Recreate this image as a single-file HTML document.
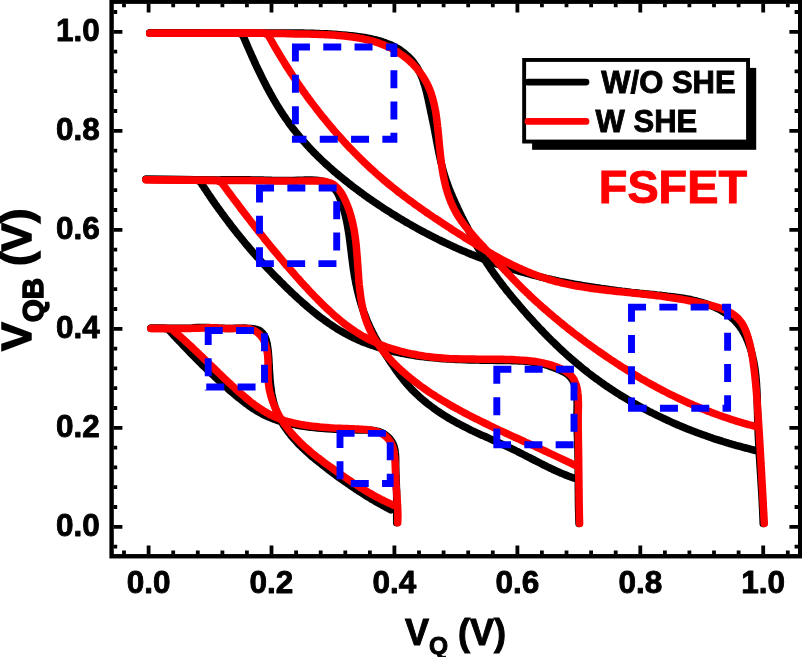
<!DOCTYPE html>
<html lang="en">
<head>
<meta charset="utf-8">
<title>FSFET butterfly curves</title>
<style>
html,body{margin:0;padding:0;background:#fff;}
body{width:802px;height:657px;overflow:hidden;}
svg{display:block;}
</style>
</head>
<body>
<svg width="802" height="657" viewBox="0 0 802 657">
<rect x="0" y="0" width="802" height="657" fill="#fff"/>
<path d="M124.0,554.2v-3.6M124.0,3.7v3.6M148.6,554.2v-8.8M148.6,3.7v8.8M173.2,554.2v-3.6M173.2,3.7v3.6M197.8,554.2v-3.6M197.8,3.7v3.6M222.4,554.2v-3.6M222.4,3.7v3.6M246.9,554.2v-3.6M246.9,3.7v3.6M271.5,554.2v-8.8M271.5,3.7v8.8M296.1,554.2v-3.6M296.1,3.7v3.6M320.7,554.2v-3.6M320.7,3.7v3.6M345.3,554.2v-3.6M345.3,3.7v3.6M369.9,554.2v-3.6M369.9,3.7v3.6M394.4,554.2v-8.8M394.4,3.7v8.8M419.0,554.2v-3.6M419.0,3.7v3.6M443.6,554.2v-3.6M443.6,3.7v3.6M468.2,554.2v-3.6M468.2,3.7v3.6M492.8,554.2v-3.6M492.8,3.7v3.6M517.4,554.2v-8.8M517.4,3.7v8.8M541.9,554.2v-3.6M541.9,3.7v3.6M566.5,554.2v-3.6M566.5,3.7v3.6M591.1,554.2v-3.6M591.1,3.7v3.6M615.7,554.2v-3.6M615.7,3.7v3.6M640.3,554.2v-8.8M640.3,3.7v8.8M664.9,554.2v-3.6M664.9,3.7v3.6M689.4,554.2v-3.6M689.4,3.7v3.6M714.0,554.2v-3.6M714.0,3.7v3.6M738.6,554.2v-3.6M738.6,3.7v3.6M763.2,554.2v-8.8M763.2,3.7v8.8M787.8,554.2v-3.6M787.8,3.7v3.6M113.6,546.6h3.6M798.2,546.6h-3.6M113.6,526.8h8.8M798.2,526.8h-8.8M113.6,507.0h3.6M798.2,507.0h-3.6M113.6,487.2h3.6M798.2,487.2h-3.6M113.6,467.4h3.6M798.2,467.4h-3.6M113.6,447.6h3.6M798.2,447.6h-3.6M113.6,427.8h8.8M798.2,427.8h-8.8M113.6,408.0h3.6M798.2,408.0h-3.6M113.6,388.2h3.6M798.2,388.2h-3.6M113.6,368.4h3.6M798.2,368.4h-3.6M113.6,348.6h3.6M798.2,348.6h-3.6M113.6,328.8h8.8M798.2,328.8h-8.8M113.6,309.0h3.6M798.2,309.0h-3.6M113.6,289.2h3.6M798.2,289.2h-3.6M113.6,269.4h3.6M798.2,269.4h-3.6M113.6,249.6h3.6M798.2,249.6h-3.6M113.6,229.8h8.8M798.2,229.8h-8.8M113.6,210.0h3.6M798.2,210.0h-3.6M113.6,190.2h3.6M798.2,190.2h-3.6M113.6,170.4h3.6M798.2,170.4h-3.6M113.6,150.6h3.6M798.2,150.6h-3.6M113.6,130.8h8.8M798.2,130.8h-8.8M113.6,111.0h3.6M798.2,111.0h-3.6M113.6,91.2h3.6M798.2,91.2h-3.6M113.6,71.4h3.6M798.2,71.4h-3.6M113.6,51.6h3.6M798.2,51.6h-3.6M113.6,31.8h8.8M798.2,31.8h-8.8M113.6,12.0h3.6M798.2,12.0h-3.6" stroke="#000" stroke-width="3.8" fill="none"/>
<path d="M149.7,32.9L200.0,32.9C200.6,32.9 202.3,32.9 203.5,32.9C204.7,32.9 205.8,32.9 207.0,32.9C208.2,32.9 209.4,32.9 210.5,32.9C211.7,32.9 212.9,32.9 214.0,32.9C215.2,32.9 216.4,32.9 217.6,32.9C218.7,32.9 219.9,32.9 221.1,32.9C222.3,32.9 223.5,32.9 224.6,32.9C225.8,32.9 227.0,32.9 228.2,32.9C229.4,32.9 230.5,32.9 231.7,32.9C232.9,32.9 234.1,32.9 235.3,32.9C236.4,32.9 237.6,32.9 238.8,32.9C240.0,32.9 241.2,32.9 242.4,32.9C243.5,32.9 244.7,32.9 245.9,32.9C247.1,32.9 248.3,32.9 249.5,32.9C250.6,32.9 251.8,32.9 253.0,32.9C254.2,32.9 255.4,32.9 256.6,32.9C257.7,32.9 258.9,32.9 260.1,32.9C261.3,32.9 262.5,32.9 263.7,32.9C264.8,32.9 266.0,32.9 267.2,32.9C268.4,32.9 269.6,32.9 270.7,32.9C271.9,32.9 273.1,32.9 274.3,32.9C275.5,32.9 276.6,32.9 277.8,32.9C279.0,32.9 280.2,32.9 281.4,32.9C282.5,32.9 283.7,32.9 284.9,32.9C286.1,32.9 287.2,33.0 288.4,33.0C289.6,33.0 290.8,33.0 291.9,33.0C293.1,33.0 294.3,33.0 295.4,33.0C296.6,33.1 297.8,33.1 299.0,33.1C300.1,33.1 301.3,33.1 302.5,33.1C303.6,33.2 304.8,33.2 305.9,33.2C307.1,33.2 308.3,33.2 309.4,33.3C310.6,33.3 311.8,33.3 312.9,33.3C314.1,33.4 315.2,33.4 316.4,33.4C317.6,33.5 318.7,33.5 319.9,33.6C321.0,33.6 322.2,33.6 323.4,33.7C324.5,33.7 325.7,33.8 326.9,33.8C328.0,33.9 329.2,34.0 330.4,34.0C331.5,34.1 332.7,34.2 333.9,34.2C335.0,34.3 336.2,34.4 337.4,34.5C338.6,34.6 339.7,34.7 340.9,34.8C342.1,34.8 343.3,34.9 344.5,35.1C345.6,35.2 346.8,35.3 348.0,35.4C349.2,35.5 350.4,35.7 351.6,35.8C352.8,35.9 354.0,36.1 355.2,36.2C356.4,36.4 357.6,36.5 358.8,36.7C360.0,36.9 361.2,37.0 362.4,37.2C363.6,37.4 364.8,37.6 366.0,37.8C367.2,38.0 368.4,38.3 369.6,38.5C370.8,38.8 372.0,39.0 373.2,39.3C374.3,39.6 375.5,39.8 376.7,40.1C377.8,40.4 379.0,40.8 380.1,41.1C381.3,41.4 382.4,41.8 383.6,42.2C384.7,42.6 385.8,43.0 386.9,43.4C388.0,43.8 389.1,44.2 390.2,44.7C391.2,45.2 392.3,45.7 393.3,46.2C394.4,46.7 395.4,47.2 396.4,47.8C397.4,48.3 398.4,48.9 399.4,49.5C400.3,50.2 401.3,50.8 402.2,51.5C403.1,52.1 404.1,52.8 404.9,53.6C405.8,54.3 406.7,55.0 407.5,55.8C408.3,56.6 409.2,57.4 409.9,58.2C410.7,59.1 411.5,59.9 412.2,60.8C413.0,61.7 413.7,62.6 414.3,63.5C415.0,64.4 415.7,65.4 416.3,66.3C416.9,67.3 417.5,68.3 418.1,69.3C418.6,70.3 419.2,71.3 419.7,72.4C420.2,73.4 420.7,74.5 421.1,75.5C421.6,76.6 422.0,77.7 422.5,78.8C422.9,79.9 423.3,81.0 423.6,82.1C424.0,83.2 424.4,84.4 424.7,85.5C425.1,86.6 425.4,87.8 425.7,88.9C426.0,90.0 426.3,91.2 426.6,92.3C426.9,93.5 427.1,94.6 427.4,95.8C427.7,97.0 427.9,98.1 428.2,99.3C428.4,100.4 428.7,101.6 428.9,102.7C429.2,103.9 429.4,105.1 429.7,106.2C429.9,107.4 430.2,108.5 430.4,109.7C430.6,110.8 430.9,112.0 431.1,113.1C431.4,114.3 431.6,115.4 431.9,116.6C432.1,117.7 432.3,118.9 432.6,120.0C432.8,121.2 433.1,122.3 433.3,123.5C433.5,124.6 433.8,125.8 434.0,127.0C434.2,128.1 434.4,129.3 434.7,130.4C434.9,131.6 435.1,132.7 435.3,133.9C435.6,135.1 435.8,136.2 436.0,137.4C436.2,138.5 436.4,139.7 436.6,140.9C436.9,142.0 437.1,143.2 437.3,144.4C437.5,145.5 437.8,146.7 438.0,147.8C438.2,149.0 438.4,150.2 438.7,151.3C438.9,152.5 439.1,153.6 439.4,154.8C439.6,155.9 439.9,157.1 440.1,158.3C440.4,159.4 440.6,160.6 440.9,161.7C441.2,162.9 441.5,164.0 441.7,165.1C442.0,166.3 442.3,167.4 442.6,168.5C442.9,169.7 443.2,170.8 443.5,171.9C443.9,173.1 444.2,174.2 444.5,175.3C444.9,176.4 445.2,177.5 445.6,178.6C446.0,179.8 446.3,180.9 446.7,182.0C447.1,183.1 447.5,184.2 447.9,185.3C448.3,186.4 448.7,187.4 449.1,188.5C449.6,189.6 450.0,190.7 450.4,191.8C450.9,192.9 451.3,194.0 451.8,195.0C452.2,196.1 452.7,197.2 453.1,198.3C453.6,199.3 454.1,200.4 454.5,201.5C455.0,202.5 455.5,203.6 456.0,204.7C456.5,205.7 457.0,206.8 457.5,207.9C458.0,208.9 458.5,210.0 459.0,211.0C459.5,212.1 460.0,213.1 460.6,214.2C461.1,215.3 461.6,216.3 462.1,217.4C462.7,218.4 463.2,219.5 463.7,220.5C464.3,221.6 464.8,222.6 465.3,223.7C465.9,224.7 466.4,225.8 467.0,226.8C467.5,227.9 468.1,228.9 468.6,230.0C469.2,231.0 469.7,232.1 470.3,233.1C470.8,234.2 471.4,235.2 471.9,236.3C472.5,237.3 473.0,238.4 473.6,239.4C474.1,240.5 474.7,241.5 475.2,242.6C475.8,243.6 476.3,244.7 476.9,245.7C477.4,246.7 478.0,247.8 478.6,248.8C479.1,249.9 479.7,250.9 480.3,251.9C480.9,252.9 481.4,254.0 482.0,255.0C482.6,256.0 483.2,257.0 483.8,258.0C484.4,259.0 485.0,260.0 485.6,261.0C486.3,262.0 486.9,263.0 487.5,264.0C488.1,265.0 488.8,266.0 489.4,266.9C490.1,267.9 490.7,268.9 491.4,269.9C492.0,270.8 492.7,271.8 493.4,272.7C494.0,273.7 494.7,274.6 495.4,275.6C496.1,276.5 496.8,277.5 497.5,278.4C498.2,279.4 498.9,280.3 499.6,281.2C500.3,282.2 501.0,283.1 501.7,284.0C502.4,285.0 503.1,285.9 503.8,286.8C504.5,287.7 505.3,288.6 506.0,289.5C506.7,290.5 507.5,291.4 508.2,292.3C508.9,293.2 509.7,294.1 510.4,295.0C511.2,295.9 511.9,296.8 512.7,297.7C513.4,298.6 514.2,299.5 514.9,300.4C515.7,301.3 516.4,302.2 517.2,303.1C518.0,304.0 518.7,304.9 519.5,305.8C520.2,306.7 521.0,307.6 521.8,308.5C522.6,309.4 523.3,310.3 524.1,311.2C524.9,312.0 525.7,312.9 526.4,313.8C527.2,314.7 528.0,315.6 528.8,316.5C529.6,317.3 530.4,318.2 531.2,319.1C532.0,320.0 532.8,320.8 533.6,321.7C534.4,322.6 535.2,323.5 536.0,324.3C536.8,325.2 537.6,326.1 538.4,326.9C539.2,327.8 540.0,328.6 540.8,329.5C541.6,330.3 542.5,331.2 543.3,332.1C544.1,332.9 544.9,333.8 545.7,334.6C546.6,335.4 547.4,336.3 548.2,337.1C549.1,338.0 549.9,338.8 550.7,339.6C551.6,340.5 552.4,341.3 553.3,342.1C554.1,343.0 555.0,343.8 555.8,344.6C556.7,345.4 557.5,346.2 558.4,347.0C559.2,347.9 560.1,348.7 561.0,349.5C561.8,350.3 562.7,351.1 563.6,351.9C564.4,352.7 565.3,353.5 566.2,354.3C567.1,355.1 567.9,355.8 568.8,356.6C569.7,357.4 570.6,358.2 571.5,359.0C572.4,359.7 573.3,360.5 574.2,361.3C575.1,362.0 576.0,362.8 576.9,363.6C577.8,364.3 578.7,365.1 579.6,365.8C580.5,366.6 581.4,367.3 582.3,368.1C583.2,368.8 584.1,369.5 585.1,370.3C586.0,371.0 586.9,371.7 587.8,372.5C588.8,373.2 589.7,373.9 590.6,374.6C591.6,375.3 592.5,376.0 593.4,376.7C594.4,377.4 595.3,378.1 596.3,378.8C597.2,379.5 598.2,380.2 599.1,380.9C600.1,381.6 601.0,382.3 602.0,382.9C603.0,383.6 603.9,384.3 604.9,385.0C605.9,385.6 606.8,386.3 607.8,387.0C608.8,387.6 609.7,388.3 610.7,388.9C611.7,389.6 612.7,390.2 613.7,390.9C614.6,391.5 615.6,392.1 616.6,392.8C617.6,393.4 618.6,394.0 619.6,394.6C620.6,395.3 621.6,395.9 622.6,396.5C623.6,397.1 624.6,397.7 625.6,398.3C626.6,398.9 627.6,399.5 628.6,400.1C629.6,400.7 630.7,401.3 631.7,401.9C632.7,402.5 633.7,403.1 634.7,403.7C635.7,404.2 636.8,404.8 637.8,405.4C638.8,405.9 639.9,406.5 640.9,407.1C641.9,407.6 642.9,408.2 644.0,408.7C645.0,409.3 646.1,409.8 647.1,410.4C648.1,410.9 649.2,411.5 650.2,412.0C651.3,412.5 652.3,413.1 653.4,413.6C654.4,414.1 655.5,414.6 656.5,415.2C657.6,415.7 658.6,416.2 659.7,416.7C660.8,417.2 661.8,417.7 662.9,418.2C663.9,418.7 665.0,419.2 666.1,419.7C667.1,420.2 668.2,420.7 669.3,421.2C670.4,421.7 671.4,422.1 672.5,422.6C673.6,423.1 674.7,423.6 675.7,424.0C676.8,424.5 677.9,425.0 679.0,425.4C680.1,425.9 681.2,426.3 682.2,426.8C683.3,427.2 684.4,427.7 685.5,428.1C686.6,428.6 687.7,429.0 688.8,429.4C689.9,429.9 691.0,430.3 692.1,430.7C693.2,431.1 694.3,431.6 695.4,432.0C696.5,432.4 697.6,432.8 698.7,433.2C699.8,433.6 700.9,434.0 702.0,434.4C703.1,434.8 704.2,435.2 705.3,435.6C706.4,436.0 707.6,436.4 708.7,436.8C709.8,437.2 710.9,437.6 712.0,437.9C713.1,438.3 714.2,438.7 715.4,439.1C716.5,439.4 717.6,439.8 718.7,440.1C719.9,440.5 721.0,440.9 722.1,441.2C723.2,441.6 724.4,441.9 725.5,442.3C726.6,442.6 727.7,442.9 728.9,443.3C730.0,443.6 731.1,443.9 732.3,444.3C733.4,444.6 734.5,444.9 735.7,445.3C736.8,445.6 737.9,445.9 739.1,446.2C740.2,446.5 741.3,446.8 742.5,447.1C743.6,447.4 744.8,447.7 745.9,448.0C747.0,448.3 748.2,448.6 749.3,448.9C750.5,449.2 751.6,449.5 752.8,449.8C753.9,450.0 755.6,450.5 756.2,450.6" stroke="#000000" stroke-width="7.5" fill="none" stroke-linecap="round" stroke-linejoin="round"/>
<path d="M149.7,32.9L238.0,32.9L242.5,34.5C242.7,35.0 243.4,36.6 243.9,37.7C244.3,38.8 244.8,39.8 245.2,40.9C245.7,42.0 246.2,43.0 246.6,44.1C247.1,45.2 247.6,46.2 248.0,47.3C248.5,48.4 249.0,49.5 249.4,50.5C249.9,51.6 250.4,52.7 250.9,53.7C251.3,54.8 251.8,55.9 252.3,57.0C252.8,58.0 253.3,59.1 253.8,60.2C254.2,61.2 254.7,62.3 255.2,63.4C255.7,64.5 256.2,65.5 256.7,66.6C257.2,67.7 257.7,68.7 258.2,69.8C258.7,70.8 259.3,71.9 259.8,73.0C260.3,74.0 260.8,75.1 261.3,76.2C261.9,77.2 262.4,78.3 262.9,79.3C263.4,80.4 264.0,81.4 264.5,82.5C265.1,83.5 265.6,84.6 266.1,85.6C266.7,86.7 267.2,87.7 267.8,88.8C268.4,89.8 268.9,90.8 269.5,91.9C270.0,92.9 270.6,93.9 271.2,95.0C271.8,96.0 272.3,97.0 272.9,98.0C273.5,99.1 274.1,100.1 274.7,101.1C275.3,102.1 275.9,103.1 276.5,104.1C277.1,105.1 277.7,106.1 278.3,107.1C279.0,108.1 279.6,109.1 280.2,110.1C280.8,111.1 281.5,112.1 282.1,113.1C282.8,114.1 283.4,115.1 284.1,116.0C284.7,117.0 285.4,118.0 286.0,118.9C286.7,119.9 287.4,120.9 288.1,121.8C288.7,122.8 289.4,123.7 290.1,124.6C290.8,125.6 291.5,126.5 292.2,127.5C292.9,128.4 293.6,129.3 294.4,130.2C295.1,131.2 295.8,132.1 296.5,133.0C297.3,133.9 298.0,134.8 298.7,135.7C299.5,136.6 300.2,137.5 301.0,138.4C301.8,139.3 302.5,140.1 303.3,141.0C304.1,141.9 304.8,142.8 305.6,143.6C306.4,144.5 307.2,145.4 308.0,146.2C308.8,147.1 309.6,147.9 310.4,148.8C311.2,149.6 312.0,150.5 312.8,151.3C313.6,152.2 314.4,153.0 315.2,153.8C316.1,154.6 316.9,155.5 317.7,156.3C318.6,157.1 319.4,157.9 320.2,158.7C321.1,159.6 321.9,160.4 322.8,161.2C323.6,162.0 324.5,162.8 325.4,163.6C326.2,164.3 327.1,165.1 328.0,165.9C328.8,166.7 329.7,167.5 330.6,168.3C331.5,169.0 332.3,169.8 333.2,170.6C334.1,171.4 335.0,172.1 335.9,172.9C336.8,173.6 337.7,174.4 338.6,175.1C339.5,175.9 340.4,176.6 341.3,177.4C342.2,178.1 343.1,178.9 344.1,179.6C345.0,180.4 345.9,181.1 346.8,181.8C347.7,182.5 348.7,183.3 349.6,184.0C350.5,184.7 351.4,185.4 352.4,186.2C353.3,186.9 354.3,187.6 355.2,188.3C356.1,189.0 357.1,189.7 358.0,190.4C359.0,191.1 359.9,191.8 360.9,192.5C361.8,193.2 362.8,193.9 363.7,194.6C364.7,195.3 365.6,196.0 366.6,196.6C367.6,197.3 368.5,198.0 369.5,198.7C370.4,199.4 371.4,200.0 372.4,200.7C373.3,201.4 374.3,202.0 375.3,202.7C376.3,203.4 377.2,204.0 378.2,204.7C379.2,205.3 380.2,206.0 381.2,206.6C382.1,207.3 383.1,207.9 384.1,208.6C385.1,209.2 386.1,209.9 387.1,210.5C388.1,211.1 389.1,211.8 390.1,212.4C391.1,213.0 392.0,213.7 393.0,214.3C394.0,214.9 395.0,215.5 396.1,216.1C397.1,216.8 398.1,217.4 399.1,218.0C400.1,218.6 401.1,219.2 402.1,219.8C403.1,220.4 404.1,221.0 405.1,221.6C406.2,222.2 407.2,222.8 408.2,223.4C409.2,224.0 410.2,224.5 411.3,225.1C412.3,225.7 413.3,226.3 414.3,226.9C415.4,227.4 416.4,228.0 417.4,228.6C418.4,229.1 419.5,229.7 420.5,230.3C421.5,230.8 422.6,231.4 423.6,231.9C424.7,232.5 425.7,233.0 426.7,233.6C427.8,234.1 428.8,234.7 429.9,235.2C430.9,235.8 432.0,236.3 433.0,236.8C434.1,237.4 435.1,237.9 436.2,238.4C437.2,238.9 438.3,239.5 439.3,240.0C440.4,240.5 441.4,241.0 442.5,241.5C443.6,242.0 444.6,242.5 445.7,243.0C446.7,243.5 447.8,244.0 448.9,244.5C449.9,245.0 451.0,245.5 452.1,246.0C453.1,246.5 454.2,247.0 455.3,247.5C456.4,247.9 457.4,248.4 458.5,248.9C459.6,249.4 460.7,249.8 461.7,250.3C462.8,250.8 463.9,251.2 465.0,251.7C466.1,252.2 467.1,252.6 468.2,253.1C469.3,253.5 470.4,254.0 471.5,254.4C472.6,254.8 473.7,255.3 474.7,255.7C475.8,256.2 476.9,256.6 478.0,257.0C479.1,257.4 480.2,257.9 481.3,258.3C482.4,258.7 483.5,259.1 484.6,259.5C485.7,260.0 486.8,260.4 487.9,260.8C489.0,261.2 490.1,261.6 491.2,262.0C492.3,262.4 493.4,262.8 494.5,263.2C495.6,263.5 496.7,263.9 497.8,264.3C498.9,264.7 500.0,265.1 501.1,265.4C502.2,265.8 503.4,266.2 504.5,266.6C505.6,266.9 506.7,267.3 507.8,267.6C508.9,268.0 510.0,268.4 511.2,268.7C512.3,269.1 513.4,269.4 514.5,269.8C515.6,270.1 516.8,270.4 517.9,270.8C519.0,271.1 520.1,271.4 521.2,271.8C522.4,272.1 523.5,272.4 524.6,272.7C525.7,273.0 526.9,273.4 528.0,273.7C529.1,274.0 530.2,274.3 531.4,274.6C532.5,274.9 533.6,275.2 534.8,275.5C535.9,275.8 537.0,276.1 538.2,276.4C539.3,276.6 540.4,276.9 541.6,277.2C542.7,277.5 543.8,277.8 545.0,278.0C546.1,278.3 547.2,278.6 548.4,278.8C549.5,279.1 550.6,279.3 551.8,279.6C552.9,279.8 554.1,280.1 555.2,280.3C556.3,280.6 557.5,280.8 558.6,281.1C559.8,281.3 560.9,281.5 562.1,281.8C563.2,282.0 564.4,282.2 565.5,282.5C566.6,282.7 567.8,282.9 568.9,283.1C570.1,283.4 571.2,283.6 572.4,283.8C573.5,284.0 574.7,284.2 575.8,284.4C577.0,284.6 578.1,284.8 579.3,285.0C580.4,285.2 581.6,285.4 582.7,285.6C583.9,285.8 585.1,286.0 586.2,286.2C587.4,286.4 588.5,286.6 589.7,286.7C590.8,286.9 592.0,287.1 593.2,287.3C594.3,287.5 595.5,287.6 596.6,287.8C597.8,288.0 599.0,288.2 600.1,288.3C601.3,288.5 602.4,288.7 603.6,288.8C604.8,289.0 605.9,289.1 607.1,289.3C608.3,289.5 609.4,289.6 610.6,289.8C611.8,289.9 612.9,290.1 614.1,290.2C615.3,290.4 616.4,290.5 617.6,290.7C618.8,290.8 619.9,291.0 621.1,291.1C622.3,291.3 623.4,291.4 624.6,291.5C625.8,291.7 627.0,291.8 628.1,291.9C629.3,292.1 630.5,292.2 631.7,292.4C632.8,292.5 634.0,292.6 635.2,292.7C636.4,292.9 637.5,293.0 638.7,293.1C639.9,293.3 641.1,293.4 642.2,293.5C643.4,293.6 644.6,293.8 645.8,293.9C647.0,294.0 648.1,294.1 649.3,294.2C650.5,294.4 651.7,294.5 652.9,294.6C654.1,294.7 655.2,294.8 656.4,295.0C657.6,295.1 658.8,295.2 660.0,295.3C661.1,295.4 662.3,295.6 663.5,295.7C664.7,295.8 665.9,295.9 667.1,296.1C668.2,296.2 669.4,296.3 670.6,296.5C671.8,296.6 673.0,296.8 674.1,296.9C675.3,297.1 676.5,297.2 677.7,297.4C678.8,297.6 680.0,297.8 681.2,297.9C682.3,298.1 683.5,298.3 684.7,298.5C685.8,298.7 687.0,298.9 688.2,299.2C689.3,299.4 690.5,299.6 691.6,299.9C692.8,300.1 693.9,300.4 695.1,300.7C696.2,301.0 697.4,301.3 698.5,301.6C699.6,301.9 700.8,302.2 701.9,302.5C703.0,302.9 704.2,303.2 705.3,303.6C706.4,304.0 707.5,304.4 708.6,304.8C709.7,305.2 710.8,305.6 711.9,306.1C713.0,306.5 714.1,307.0 715.1,307.5C716.2,307.9 717.2,308.4 718.3,309.0C719.3,309.5 720.3,310.0 721.3,310.6C722.3,311.2 723.3,311.8 724.3,312.4C725.2,313.0 726.2,313.6 727.1,314.3C728.1,314.9 729.0,315.6 729.8,316.3C730.7,317.0 731.6,317.8 732.4,318.5C733.3,319.3 734.1,320.0 734.9,320.8C735.7,321.6 736.4,322.5 737.1,323.3C737.9,324.2 738.6,325.1 739.3,326.0C739.9,326.9 740.6,327.8 741.2,328.7C741.9,329.7 742.5,330.6 743.0,331.6C743.6,332.6 744.2,333.6 744.7,334.6C745.3,335.6 745.8,336.7 746.3,337.7C746.7,338.8 747.2,339.8 747.7,340.9C748.1,342.0 748.5,343.1 748.9,344.2C749.3,345.3 749.7,346.4 750.1,347.5C750.5,348.6 750.8,349.8 751.2,350.9C751.5,352.1 751.8,353.2 752.1,354.4C752.4,355.5 752.7,356.7 752.9,357.9C753.2,359.0 753.4,360.2 753.7,361.4C753.9,362.6 754.1,363.7 754.3,364.9C754.5,366.1 754.7,367.3 754.9,368.4C755.1,369.6 755.2,370.8 755.4,372.0C755.5,373.2 755.6,374.4 755.8,375.5C755.9,376.7 756.0,377.9 756.1,379.1C756.2,380.3 756.3,381.5 756.4,382.6C756.5,383.8 756.6,385.0 756.6,386.2C756.7,387.4 756.8,388.6 756.8,389.8C756.9,390.9 757.0,392.1 757.0,393.3C757.0,394.5 757.1,395.7 757.1,396.9C757.2,398.1 757.2,399.2 757.2,400.4C757.3,401.6 757.3,402.8 757.3,404.0C757.3,405.2 757.4,406.3 757.4,407.5C757.4,408.7 757.5,409.9 757.5,411.1C757.5,412.3 757.5,413.4 757.6,414.6C757.6,415.8 757.6,417.0 757.7,418.1C757.7,419.3 757.7,420.5 757.8,421.7C757.8,422.8 757.8,424.0 757.9,425.2C757.9,426.4 758.0,427.5 758.0,428.7C758.1,429.9 758.1,431.0 758.2,432.2C758.2,433.4 758.3,434.6 758.3,435.7C758.4,436.9 758.4,438.1 758.5,439.2C758.6,440.4 758.6,441.6 758.7,442.7C758.8,443.9 758.8,445.1 758.9,446.2C758.9,447.4 759.0,448.6 759.1,449.7C759.1,450.9 759.2,452.0 759.3,453.2C759.3,454.4 759.4,455.5 759.5,456.7C759.6,457.9 759.6,459.0 759.7,460.2C759.8,461.4 759.8,462.5 759.9,463.7C760.0,464.8 760.1,466.0 760.1,467.2C760.2,468.3 760.3,469.5 760.4,470.7C760.4,471.8 760.5,473.0 760.6,474.2C760.7,475.3 760.7,476.5 760.8,477.7C760.9,478.8 761.0,480.0 761.0,481.2C761.1,482.3 761.2,483.5 761.2,484.7C761.3,485.8 761.4,487.0 761.5,488.2C761.5,489.3 761.6,490.5 761.7,491.7C761.7,492.8 761.8,494.0 761.9,495.2C761.9,496.3 762.0,497.5 762.1,498.7C762.1,499.9 762.2,501.0 762.3,502.2C762.3,503.4 762.4,504.6 762.4,505.7C762.5,506.9 762.6,508.1 762.6,509.3C762.7,510.5 762.7,511.6 762.8,512.8C762.8,514.0 762.9,515.2 762.9,516.4C763.0,517.6 763.0,518.7 763.1,519.9C763.1,521.1 763.2,522.9 763.2,523.5" stroke="#000000" stroke-width="7.5" fill="none" stroke-linecap="round" stroke-linejoin="round"/>
<path d="M149.7,33.2L200.0,33.2C200.6,33.2 202.4,33.1 203.7,33.1C204.9,33.1 206.1,33.1 207.3,33.1C208.5,33.0 209.7,33.0 210.9,33.0C212.1,33.0 213.3,33.0 214.5,33.0C215.7,33.0 216.9,32.9 218.1,32.9C219.3,32.9 220.4,32.9 221.6,32.9C222.8,32.9 224.0,32.9 225.2,32.9C226.3,32.9 227.5,32.9 228.7,32.9C229.8,32.9 231.0,32.9 232.2,32.9C233.3,32.9 234.5,32.9 235.7,32.9C236.8,32.9 238.0,32.9 239.1,32.9C240.3,32.9 241.5,33.0 242.6,33.0C243.8,33.0 244.9,33.0 246.1,33.0C247.2,33.0 248.4,33.0 249.5,33.0C250.7,33.0 251.8,33.1 253.0,33.1C254.1,33.1 255.3,33.1 256.4,33.1C257.6,33.1 258.7,33.2 259.9,33.2C261.0,33.2 262.1,33.2 263.3,33.2C264.4,33.3 265.6,33.3 266.7,33.3C267.9,33.3 269.0,33.3 270.2,33.4C271.3,33.4 272.5,33.4 273.6,33.4C274.8,33.5 275.9,33.5 277.1,33.5C278.3,33.5 279.4,33.6 280.6,33.6C281.7,33.6 282.9,33.6 284.0,33.6C285.2,33.7 286.4,33.7 287.5,33.7C288.7,33.7 289.9,33.8 291.0,33.8C292.2,33.8 293.4,33.8 294.6,33.9C295.7,33.9 296.9,33.9 298.1,33.9C299.3,34.0 300.5,34.0 301.6,34.0C302.8,34.0 304.0,34.1 305.2,34.1C306.4,34.1 307.6,34.1 308.8,34.1C310.0,34.2 311.2,34.2 312.4,34.2C313.6,34.3 314.8,34.3 316.0,34.3C317.2,34.4 318.4,34.4 319.6,34.4C320.8,34.5 322.0,34.5 323.3,34.6C324.5,34.6 325.7,34.7 326.9,34.7C328.1,34.8 329.3,34.8 330.5,34.9C331.7,35.0 332.9,35.0 334.1,35.1C335.3,35.2 336.5,35.3 337.7,35.4C338.9,35.5 340.1,35.6 341.3,35.7C342.5,35.8 343.7,35.9 344.9,36.0C346.1,36.2 347.3,36.3 348.5,36.5C349.7,36.6 350.9,36.8 352.0,36.9C353.2,37.1 354.4,37.3 355.6,37.5C356.7,37.6 357.9,37.8 359.1,38.1C360.2,38.3 361.4,38.5 362.5,38.7C363.7,39.0 364.8,39.2 366.0,39.5C367.1,39.7 368.2,40.0 369.4,40.3C370.5,40.6 371.6,40.9 372.7,41.2C373.8,41.5 375.0,41.9 376.1,42.2C377.2,42.6 378.3,42.9 379.3,43.3C380.4,43.7 381.5,44.1 382.6,44.5C383.6,44.9 384.7,45.4 385.8,45.8C386.8,46.3 387.9,46.7 388.9,47.2C389.9,47.7 390.9,48.2 392.0,48.8C393.0,49.3 394.0,49.8 395.0,50.4C396.0,51.0 397.0,51.6 397.9,52.2C398.9,52.8 399.9,53.4 400.8,54.1C401.8,54.7 402.7,55.4 403.6,56.1C404.6,56.8 405.5,57.5 406.4,58.3C407.3,59.0 408.1,59.7 409.0,60.5C409.9,61.3 410.7,62.1 411.6,62.9C412.4,63.7 413.2,64.5 414.0,65.4C414.8,66.2 415.6,67.1 416.4,68.0C417.2,68.9 417.9,69.8 418.6,70.7C419.4,71.6 420.1,72.5 420.8,73.5C421.5,74.4 422.1,75.4 422.8,76.4C423.4,77.3 424.0,78.3 424.6,79.3C425.2,80.3 425.8,81.3 426.3,82.4C426.9,83.4 427.4,84.4 427.9,85.5C428.4,86.5 428.9,87.6 429.3,88.7C429.8,89.7 430.2,90.8 430.6,91.9C431.0,93.0 431.4,94.1 431.7,95.2C432.1,96.3 432.4,97.5 432.7,98.6C433.0,99.7 433.3,100.9 433.6,102.0C433.9,103.1 434.2,104.3 434.4,105.5C434.7,106.6 434.9,107.8 435.1,108.9C435.4,110.1 435.6,111.3 435.8,112.4C435.9,113.6 436.1,114.8 436.3,116.0C436.5,117.1 436.6,118.3 436.8,119.5C436.9,120.7 437.1,121.9 437.2,123.0C437.4,124.2 437.5,125.4 437.6,126.6C437.8,127.8 437.9,129.0 438.0,130.1C438.1,131.3 438.2,132.5 438.3,133.7C438.5,134.8 438.6,136.0 438.7,137.2C438.8,138.4 438.9,139.5 439.0,140.7C439.1,141.9 439.2,143.0 439.3,144.2C439.4,145.4 439.5,146.5 439.7,147.7C439.8,148.9 439.9,150.0 440.0,151.2C440.1,152.3 440.2,153.5 440.4,154.7C440.5,155.8 440.6,157.0 440.8,158.1C440.9,159.3 441.0,160.5 441.2,161.6C441.3,162.8 441.5,163.9 441.7,165.1C441.8,166.2 442.0,167.4 442.2,168.6C442.3,169.7 442.5,170.9 442.7,172.0C442.9,173.2 443.1,174.3 443.3,175.5C443.6,176.7 443.8,177.8 444.0,179.0C444.3,180.1 444.5,181.3 444.8,182.4C445.1,183.6 445.3,184.7 445.6,185.9C445.9,187.0 446.2,188.1 446.5,189.3C446.9,190.4 447.2,191.5 447.5,192.7C447.9,193.8 448.3,194.9 448.6,196.0C449.0,197.1 449.4,198.2 449.8,199.3C450.3,200.4 450.7,201.5 451.1,202.6C451.6,203.6 452.1,204.7 452.5,205.8C453.0,206.8 453.5,207.9 454.1,208.9C454.6,209.9 455.1,211.0 455.7,212.0C456.3,213.0 456.9,214.0 457.5,215.0C458.1,216.0 458.7,217.0 459.3,217.9C460.0,218.9 460.6,219.9 461.3,220.8C462.0,221.8 462.7,222.7 463.4,223.7C464.1,224.6 464.8,225.5 465.5,226.5C466.2,227.4 467.0,228.3 467.7,229.2C468.4,230.1 469.2,231.0 470.0,231.9C470.7,232.8 471.5,233.7 472.3,234.6C473.1,235.5 473.8,236.4 474.6,237.3C475.4,238.2 476.2,239.0 477.0,239.9C477.8,240.8 478.6,241.7 479.4,242.5C480.2,243.4 481.0,244.3 481.8,245.1C482.6,246.0 483.5,246.9 484.3,247.8C485.1,248.6 485.9,249.5 486.7,250.4C487.5,251.2 488.3,252.1 489.1,253.0C489.9,253.8 490.7,254.7 491.5,255.6C492.2,256.4 493.0,257.3 493.8,258.2C494.6,259.0 495.4,259.9 496.2,260.8C497.0,261.6 497.8,262.5 498.6,263.4C499.4,264.2 500.2,265.1 501.0,266.0C501.7,266.8 502.5,267.7 503.3,268.6C504.1,269.4 504.9,270.3 505.7,271.1C506.5,272.0 507.3,272.8 508.1,273.7C508.9,274.5 509.7,275.4 510.5,276.2C511.3,277.1 512.1,277.9 512.9,278.8C513.7,279.6 514.5,280.5 515.3,281.3C516.2,282.1 517.0,283.0 517.8,283.8C518.6,284.6 519.4,285.5 520.3,286.3C521.1,287.1 521.9,287.9 522.8,288.8C523.6,289.6 524.4,290.4 525.3,291.2C526.1,292.0 527.0,292.8 527.8,293.6C528.6,294.5 529.5,295.3 530.3,296.1C531.2,296.9 532.0,297.7 532.9,298.5C533.8,299.3 534.6,300.1 535.5,300.9C536.3,301.6 537.2,302.4 538.1,303.2C538.9,304.0 539.8,304.8 540.7,305.6C541.6,306.4 542.4,307.1 543.3,307.9C544.2,308.7 545.1,309.5 546.0,310.2C546.8,311.0 547.7,311.8 548.6,312.5C549.5,313.3 550.4,314.1 551.3,314.8C552.2,315.6 553.1,316.3 554.0,317.1C554.9,317.8 555.8,318.6 556.7,319.3C557.6,320.1 558.5,320.8 559.4,321.6C560.3,322.3 561.2,323.1 562.1,323.8C563.1,324.6 564.0,325.3 564.9,326.0C565.8,326.8 566.7,327.5 567.7,328.2C568.6,328.9 569.5,329.7 570.4,330.4C571.4,331.1 572.3,331.8 573.2,332.6C574.1,333.3 575.1,334.0 576.0,334.7C576.9,335.4 577.9,336.1 578.8,336.8C579.8,337.6 580.7,338.3 581.6,339.0C582.6,339.7 583.5,340.4 584.5,341.1C585.4,341.8 586.4,342.5 587.3,343.2C588.3,343.9 589.2,344.6 590.2,345.2C591.1,345.9 592.1,346.6 593.0,347.3C594.0,348.0 595.0,348.7 595.9,349.4C596.9,350.0 597.8,350.7 598.8,351.4C599.8,352.1 600.7,352.7 601.7,353.4C602.7,354.1 603.6,354.7 604.6,355.4C605.6,356.1 606.5,356.7 607.5,357.4C608.5,358.0 609.5,358.7 610.4,359.4C611.4,360.0 612.4,360.7 613.4,361.3C614.4,362.0 615.3,362.6 616.3,363.2C617.3,363.9 618.3,364.5 619.3,365.2C620.3,365.8 621.3,366.4 622.3,367.1C623.3,367.7 624.2,368.3 625.2,368.9C626.2,369.6 627.2,370.2 628.2,370.8C629.2,371.4 630.2,372.0 631.2,372.7C632.2,373.3 633.2,373.9 634.3,374.5C635.3,375.1 636.3,375.7 637.3,376.3C638.3,376.9 639.3,377.5 640.3,378.1C641.3,378.7 642.3,379.3 643.4,379.8C644.4,380.4 645.4,381.0 646.4,381.6C647.4,382.2 648.5,382.7 649.5,383.3C650.5,383.9 651.5,384.5 652.6,385.0C653.6,385.6 654.6,386.1 655.7,386.7C656.7,387.3 657.7,387.8 658.8,388.4C659.8,388.9 660.8,389.5 661.9,390.0C662.9,390.6 663.9,391.1 665.0,391.6C666.0,392.2 667.1,392.7 668.1,393.2C669.2,393.8 670.2,394.3 671.3,394.8C672.3,395.3 673.4,395.8 674.4,396.4C675.5,396.9 676.5,397.4 677.6,397.9C678.6,398.4 679.7,398.9 680.8,399.4C681.8,399.9 682.9,400.4 684.0,400.9C685.0,401.4 686.1,401.8 687.2,402.3C688.2,402.8 689.3,403.3 690.4,403.8C691.4,404.2 692.5,404.7 693.6,405.2C694.7,405.6 695.7,406.1 696.8,406.6C697.9,407.0 699.0,407.5 700.1,407.9C701.1,408.4 702.2,408.8 703.3,409.2C704.4,409.7 705.5,410.1 706.6,410.5C707.7,411.0 708.8,411.4 709.9,411.8C711.0,412.2 712.0,412.7 713.1,413.1C714.2,413.5 715.3,413.9 716.4,414.3C717.5,414.7 718.6,415.1 719.8,415.5C720.9,415.9 722.0,416.3 723.1,416.7C724.2,417.1 725.3,417.4 726.4,417.8C727.5,418.2 728.6,418.6 729.8,418.9C730.9,419.3 732.0,419.7 733.1,420.0C734.2,420.4 735.3,420.7 736.5,421.1C737.6,421.4 738.7,421.8 739.8,422.1C741.0,422.4 742.1,422.8 743.2,423.1C744.4,423.4 745.5,423.8 746.6,424.1C747.8,424.4 748.9,424.7 750.0,425.0C751.2,425.3 752.3,425.6 753.5,425.9C754.6,426.2 756.3,426.7 756.9,426.8" stroke="#ff0000" stroke-width="7.5" fill="none" stroke-linecap="round" stroke-linejoin="round"/>
<path d="M149.7,33.2L264.0,33.2L268.0,34.8C268.3,35.3 269.1,36.8 269.7,37.9C270.3,38.9 270.9,39.9 271.4,40.9C272.0,41.9 272.6,42.9 273.2,44.0C273.8,45.0 274.3,46.0 274.9,47.0C275.5,48.0 276.1,49.0 276.7,50.0C277.3,51.0 277.9,52.0 278.5,53.0C279.1,54.0 279.7,55.0 280.3,56.0C280.9,57.1 281.5,58.0 282.1,59.0C282.7,60.0 283.4,61.0 284.0,62.0C284.6,63.0 285.2,64.0 285.8,65.0C286.5,66.0 287.1,67.0 287.7,68.0C288.4,69.0 289.0,70.0 289.6,70.9C290.3,71.9 290.9,72.9 291.5,73.9C292.2,74.9 292.8,75.8 293.5,76.8C294.1,77.8 294.8,78.8 295.4,79.7C296.1,80.7 296.8,81.7 297.4,82.7C298.1,83.6 298.7,84.6 299.4,85.6C300.1,86.5 300.7,87.5 301.4,88.4C302.1,89.4 302.8,90.4 303.4,91.3C304.1,92.3 304.8,93.2 305.5,94.2C306.2,95.1 306.9,96.1 307.5,97.0C308.2,98.0 308.9,98.9 309.6,99.9C310.3,100.8 311.0,101.7 311.7,102.7C312.4,103.6 313.1,104.5 313.9,105.5C314.6,106.4 315.3,107.3 316.0,108.3C316.7,109.2 317.4,110.1 318.1,111.0C318.9,112.0 319.6,112.9 320.3,113.8C321.0,114.7 321.8,115.6 322.5,116.6C323.2,117.5 324.0,118.4 324.7,119.3C325.5,120.2 326.2,121.1 326.9,122.0C327.7,122.9 328.4,123.8 329.2,124.7C329.9,125.6 330.7,126.5 331.5,127.4C332.2,128.3 333.0,129.2 333.7,130.1C334.5,130.9 335.3,131.8 336.0,132.7C336.8,133.6 337.6,134.5 338.4,135.3C339.1,136.2 339.9,137.1 340.7,138.0C341.5,138.8 342.3,139.7 343.1,140.6C343.9,141.4 344.7,142.3 345.4,143.2C346.2,144.0 347.0,144.9 347.8,145.7C348.6,146.6 349.4,147.4 350.3,148.3C351.1,149.1 351.9,150.0 352.7,150.8C353.5,151.6 354.3,152.5 355.1,153.3C356.0,154.1 356.8,155.0 357.6,155.8C358.4,156.6 359.3,157.4 360.1,158.3C360.9,159.1 361.8,159.9 362.6,160.7C363.4,161.5 364.3,162.3 365.1,163.1C366.0,164.0 366.8,164.8 367.7,165.6C368.5,166.4 369.4,167.2 370.2,168.0C371.1,168.7 372.0,169.5 372.8,170.3C373.7,171.1 374.6,171.9 375.4,172.7C376.3,173.5 377.2,174.2 378.0,175.0C378.9,175.8 379.8,176.5 380.7,177.3C381.6,178.1 382.5,178.8 383.3,179.6C384.2,180.4 385.1,181.1 386.0,181.9C386.9,182.6 387.8,183.4 388.7,184.1C389.6,184.9 390.5,185.6 391.4,186.3C392.3,187.1 393.2,187.8 394.2,188.5C395.1,189.3 396.0,190.0 396.9,190.7C397.8,191.4 398.7,192.2 399.7,192.9C400.6,193.6 401.5,194.3 402.5,195.0C403.4,195.7 404.3,196.4 405.3,197.1C406.2,197.8 407.1,198.5 408.1,199.2C409.0,199.9 409.9,200.6 410.9,201.3C411.8,202.0 412.8,202.7 413.7,203.4C414.7,204.1 415.6,204.8 416.6,205.5C417.5,206.1 418.5,206.8 419.5,207.5C420.4,208.2 421.4,208.9 422.3,209.5C423.3,210.2 424.3,210.9 425.2,211.5C426.2,212.2 427.1,212.9 428.1,213.5C429.1,214.2 430.1,214.9 431.0,215.5C432.0,216.2 433.0,216.9 433.9,217.5C434.9,218.2 435.9,218.8 436.9,219.5C437.9,220.1 438.8,220.8 439.8,221.4C440.8,222.1 441.8,222.7 442.8,223.4C443.7,224.0 444.7,224.7 445.7,225.3C446.7,226.0 447.7,226.6 448.7,227.2C449.7,227.9 450.7,228.5 451.6,229.2C452.6,229.8 453.6,230.4 454.6,231.1C455.6,231.7 456.6,232.3 457.6,233.0C458.6,233.6 459.6,234.2 460.6,234.9C461.6,235.5 462.6,236.1 463.6,236.8C464.5,237.4 465.5,238.0 466.5,238.7C467.5,239.3 468.5,239.9 469.5,240.5C470.5,241.2 471.5,241.8 472.5,242.4C473.5,243.0 474.5,243.7 475.5,244.3C476.5,244.9 477.5,245.5 478.6,246.1C479.6,246.7 480.6,247.3 481.6,247.9C482.6,248.5 483.6,249.1 484.6,249.7C485.6,250.3 486.6,250.9 487.6,251.5C488.7,252.1 489.7,252.7 490.7,253.3C491.7,253.9 492.7,254.5 493.7,255.0C494.8,255.6 495.8,256.2 496.8,256.8C497.8,257.3 498.9,257.9 499.9,258.4C500.9,259.0 501.9,259.6 503.0,260.1C504.0,260.6 505.0,261.2 506.1,261.7C507.1,262.3 508.2,262.8 509.2,263.3C510.2,263.8 511.3,264.4 512.3,264.9C513.4,265.4 514.4,265.9 515.5,266.4C516.5,266.9 517.6,267.4 518.6,267.9C519.7,268.4 520.7,268.9 521.8,269.3C522.9,269.8 523.9,270.3 525.0,270.7C526.1,271.2 527.1,271.6 528.2,272.1C529.3,272.5 530.3,273.0 531.4,273.4C532.5,273.8 533.6,274.2 534.7,274.6C535.8,275.1 536.8,275.5 537.9,275.8C539.0,276.2 540.1,276.6 541.2,277.0C542.3,277.4 543.4,277.7 544.5,278.1C545.6,278.5 546.7,278.8 547.8,279.1C549.0,279.5 550.1,279.8 551.2,280.1C552.3,280.5 553.4,280.8 554.5,281.1C555.7,281.4 556.8,281.7 557.9,281.9C559.1,282.2 560.2,282.5 561.3,282.8C562.5,283.1 563.6,283.3 564.7,283.6C565.9,283.8 567.0,284.1 568.2,284.3C569.3,284.6 570.5,284.8 571.6,285.0C572.8,285.2 573.9,285.5 575.1,285.7C576.2,285.9 577.4,286.1 578.5,286.3C579.7,286.5 580.9,286.7 582.0,286.9C583.2,287.1 584.4,287.3 585.5,287.4C586.7,287.6 587.9,287.8 589.0,288.0C590.2,288.1 591.4,288.3 592.5,288.5C593.7,288.6 594.9,288.8 596.0,288.9C597.2,289.1 598.4,289.3 599.6,289.4C600.7,289.5 601.9,289.7 603.1,289.8C604.3,290.0 605.4,290.1 606.6,290.2C607.8,290.4 609.0,290.5 610.2,290.6C611.3,290.8 612.5,290.9 613.7,291.0C614.9,291.2 616.0,291.3 617.2,291.4C618.4,291.5 619.6,291.7 620.8,291.8C621.9,291.9 623.1,292.0 624.3,292.1C625.5,292.3 626.6,292.4 627.8,292.5C629.0,292.6 630.2,292.7 631.4,292.8C632.5,293.0 633.7,293.1 634.9,293.2C636.0,293.3 637.2,293.4 638.4,293.6C639.6,293.7 640.7,293.8 641.9,293.9C643.1,294.1 644.2,294.2 645.4,294.3C646.6,294.4 647.7,294.6 648.9,294.7C650.1,294.8 651.2,295.0 652.4,295.1C653.5,295.2 654.7,295.4 655.8,295.5C657.0,295.7 658.2,295.8 659.3,295.9C660.5,296.1 661.6,296.2 662.8,296.4C663.9,296.6 665.0,296.7 666.2,296.9C667.3,297.0 668.5,297.2 669.6,297.4C670.8,297.5 671.9,297.7 673.0,297.9C674.2,298.1 675.3,298.3 676.5,298.4C677.6,298.6 678.8,298.8 679.9,299.0C681.0,299.2 682.2,299.4 683.3,299.6C684.5,299.8 685.6,300.0 686.8,300.2C687.9,300.4 689.0,300.7 690.2,300.9C691.3,301.1 692.5,301.3 693.7,301.6C694.8,301.8 696.0,302.0 697.1,302.3C698.3,302.5 699.4,302.8 700.6,303.0C701.8,303.3 702.9,303.5 704.1,303.8C705.3,304.0 706.5,304.3 707.6,304.6C708.8,304.9 710.0,305.2 711.2,305.4C712.3,305.7 713.5,306.1 714.7,306.4C715.8,306.7 717.0,307.0 718.1,307.4C719.3,307.8 720.4,308.1 721.5,308.5C722.6,309.0 723.7,309.4 724.8,309.8C725.9,310.3 726.9,310.8 728.0,311.3C729.0,311.8 730.0,312.3 731.0,312.9C731.9,313.5 732.9,314.1 733.8,314.8C734.7,315.4 735.6,316.1 736.4,316.9C737.2,317.6 738.0,318.4 738.8,319.2C739.5,320.0 740.2,320.9 740.9,321.8C741.6,322.7 742.2,323.7 742.8,324.7C743.4,325.7 743.9,326.7 744.4,327.8C744.9,328.9 745.4,329.9 745.9,331.1C746.3,332.2 746.7,333.3 747.1,334.4C747.5,335.6 747.9,336.8 748.2,337.9C748.6,339.1 748.9,340.3 749.2,341.4C749.5,342.6 749.8,343.8 750.1,345.0C750.3,346.1 750.6,347.3 750.8,348.5C751.1,349.6 751.3,350.8 751.5,351.9C751.7,353.1 751.9,354.2 752.1,355.4C752.3,356.5 752.5,357.7 752.7,358.8C752.8,360.0 753.0,361.1 753.2,362.3C753.3,363.4 753.5,364.6 753.6,365.7C753.8,366.9 753.9,368.0 754.1,369.2C754.2,370.3 754.4,371.5 754.5,372.6C754.6,373.8 754.7,374.9 754.9,376.1C755.0,377.2 755.1,378.4 755.2,379.6C755.4,380.7 755.5,381.9 755.6,383.0C755.7,384.2 755.8,385.4 755.9,386.5C756.0,387.7 756.1,388.9 756.2,390.0C756.3,391.2 756.4,392.4 756.5,393.5C756.6,394.7 756.7,395.9 756.8,397.0C756.9,398.2 757.0,399.4 757.1,400.6C757.1,401.7 757.2,402.9 757.3,404.1C757.4,405.2 757.5,406.4 757.6,407.6C757.6,408.8 757.7,409.9 757.8,411.1C757.9,412.3 758.0,413.4 758.0,414.6C758.1,415.8 758.2,417.0 758.3,418.1C758.4,419.3 758.4,420.5 758.5,421.6C758.6,422.8 758.7,424.0 758.7,425.2C758.8,426.3 758.9,427.5 759.0,428.7C759.0,429.8 759.1,431.0 759.2,432.2C759.2,433.4 759.3,434.5 759.4,435.7C759.5,436.9 759.5,438.0 759.6,439.2C759.7,440.4 759.7,441.6 759.8,442.7C759.9,443.9 760.0,445.1 760.0,446.2C760.1,447.4 760.2,448.6 760.2,449.7C760.3,450.9 760.4,452.1 760.4,453.3C760.5,454.4 760.6,455.6 760.6,456.8C760.7,457.9 760.8,459.1 760.8,460.3C760.9,461.5 761.0,462.6 761.0,463.8C761.1,465.0 761.2,466.1 761.2,467.3C761.3,468.5 761.4,469.6 761.4,470.8C761.5,472.0 761.6,473.2 761.6,474.3C761.7,475.5 761.7,476.7 761.8,477.8C761.9,479.0 761.9,480.2 762.0,481.4C762.1,482.5 762.1,483.7 762.2,484.9C762.3,486.0 762.3,487.2 762.4,488.4C762.5,489.5 762.5,490.7 762.6,491.9C762.6,493.1 762.7,494.2 762.8,495.4C762.8,496.6 762.9,497.7 763.0,498.9C763.0,500.1 763.1,501.2 763.1,502.4C763.2,503.6 763.3,504.8 763.3,505.9C763.4,507.1 763.5,508.3 763.5,509.4C763.6,510.6 763.7,511.8 763.7,513.0C763.8,514.1 763.8,515.3 763.9,516.5C764.0,517.6 764.0,518.8 764.1,520.0C764.2,521.2 764.3,522.9 764.3,523.5" stroke="#ff0000" stroke-width="7.5" fill="none" stroke-linecap="round" stroke-linejoin="round"/>
<path d="M146.0,179.3L220.0,179.9C220.6,179.9 222.4,179.8 223.6,179.8C224.8,179.8 226.0,179.7 227.1,179.7C228.3,179.7 229.5,179.7 230.7,179.7C231.9,179.7 233.1,179.7 234.2,179.7C235.4,179.7 236.6,179.7 237.8,179.7C239.0,179.7 240.1,179.7 241.3,179.7C242.5,179.7 243.7,179.7 244.8,179.7C246.0,179.8 247.2,179.8 248.4,179.8C249.5,179.8 250.7,179.9 251.9,179.9C253.0,179.9 254.2,179.9 255.4,180.0C256.6,180.0 257.7,180.0 258.9,180.1C260.1,180.1 261.2,180.1 262.4,180.1C263.6,180.2 264.7,180.2 265.9,180.2C267.1,180.3 268.2,180.3 269.4,180.3C270.6,180.3 271.8,180.4 272.9,180.4C274.1,180.4 275.3,180.4 276.4,180.4C277.6,180.5 278.8,180.5 279.9,180.5C281.1,180.5 282.3,180.5 283.5,180.5C284.6,180.5 285.8,180.5 287.0,180.5C288.2,180.5 289.3,180.5 290.5,180.5C291.7,180.5 292.9,180.4 294.0,180.4C295.2,180.4 296.4,180.4 297.6,180.3C298.8,180.3 299.9,180.3 301.1,180.2C302.3,180.2 303.5,180.1 304.7,180.1C305.9,180.1 307.0,180.1 308.2,180.1C309.4,180.1 310.6,180.1 311.8,180.1C313.0,180.1 314.1,180.2 315.3,180.3C316.5,180.4 317.7,180.5 318.9,180.6C320.0,180.8 321.2,181.0 322.3,181.2C323.5,181.5 324.6,181.8 325.6,182.2C326.7,182.6 327.7,183.1 328.7,183.6C329.7,184.2 330.6,184.9 331.4,185.6C332.3,186.3 333.1,187.1 333.9,188.0C334.6,188.8 335.4,189.8 336.0,190.7C336.7,191.7 337.3,192.7 337.9,193.8C338.4,194.8 339.0,195.9 339.4,197.0C339.9,198.2 340.4,199.3 340.8,200.4C341.2,201.6 341.6,202.7 342.0,203.9C342.4,205.0 342.8,206.2 343.1,207.3C343.5,208.5 343.8,209.6 344.1,210.8C344.4,211.9 344.7,213.1 345.0,214.2C345.3,215.4 345.6,216.5 345.8,217.7C346.1,218.8 346.4,220.0 346.6,221.1C346.8,222.3 347.1,223.4 347.3,224.6C347.5,225.8 347.7,226.9 347.9,228.1C348.1,229.2 348.3,230.4 348.5,231.5C348.7,232.7 348.8,233.8 349.0,235.0C349.2,236.1 349.4,237.3 349.5,238.5C349.7,239.6 349.8,240.8 350.0,241.9C350.1,243.1 350.3,244.2 350.4,245.4C350.6,246.6 350.7,247.7 350.8,248.9C351.0,250.0 351.1,251.2 351.3,252.3C351.4,253.5 351.5,254.6 351.7,255.8C351.8,257.0 352.0,258.1 352.1,259.3C352.3,260.4 352.4,261.6 352.6,262.7C352.7,263.9 352.9,265.0 353.0,266.2C353.2,267.4 353.3,268.5 353.5,269.7C353.7,270.8 353.9,272.0 354.1,273.1C354.2,274.3 354.4,275.4 354.6,276.6C354.8,277.8 355.0,278.9 355.3,280.1C355.5,281.2 355.7,282.4 355.9,283.5C356.2,284.7 356.4,285.8 356.7,287.0C356.9,288.1 357.2,289.3 357.4,290.4C357.7,291.6 358.0,292.7 358.3,293.8C358.6,295.0 358.9,296.1 359.2,297.3C359.5,298.4 359.8,299.5 360.1,300.7C360.5,301.8 360.8,302.9 361.1,304.1C361.5,305.2 361.8,306.3 362.2,307.4C362.6,308.6 362.9,309.7 363.3,310.8C363.7,311.9 364.1,313.0 364.5,314.1C364.9,315.2 365.4,316.3 365.8,317.4C366.2,318.5 366.6,319.6 367.1,320.7C367.6,321.8 368.0,322.8 368.5,323.9C369.0,325.0 369.4,326.1 369.9,327.1C370.4,328.2 370.9,329.3 371.5,330.3C372.0,331.4 372.5,332.4 373.1,333.5C373.6,334.5 374.1,335.5 374.7,336.6C375.3,337.6 375.9,338.6 376.4,339.7C377.0,340.7 377.6,341.7 378.2,342.7C378.8,343.7 379.4,344.7 380.0,345.7C380.6,346.7 381.3,347.7 381.9,348.7C382.5,349.7 383.1,350.7 383.8,351.7C384.4,352.7 385.1,353.7 385.7,354.7C386.3,355.7 387.0,356.6 387.6,357.6C388.3,358.6 388.9,359.6 389.6,360.6C390.2,361.5 390.9,362.5 391.5,363.5C392.2,364.5 392.9,365.4 393.5,366.4C394.2,367.4 394.9,368.3 395.5,369.3C396.2,370.3 396.9,371.2 397.6,372.2C398.3,373.1 398.9,374.0 399.6,375.0C400.3,375.9 401.1,376.8 401.8,377.8C402.5,378.7 403.2,379.6 403.9,380.5C404.7,381.4 405.4,382.3 406.2,383.2C406.9,384.1 407.7,385.0 408.5,385.8C409.3,386.7 410.1,387.6 410.9,388.4C411.7,389.3 412.5,390.1 413.3,390.9C414.1,391.8 415.0,392.6 415.8,393.4C416.6,394.2 417.5,395.0 418.4,395.8C419.2,396.6 420.1,397.4 421.0,398.2C421.9,399.0 422.8,399.7 423.7,400.5C424.6,401.2 425.5,402.0 426.4,402.7C427.3,403.5 428.2,404.2 429.2,404.9C430.1,405.6 431.0,406.3 432.0,407.0C432.9,407.8 433.9,408.4 434.9,409.1C435.8,409.8 436.8,410.5 437.8,411.2C438.7,411.8 439.7,412.5 440.7,413.1C441.7,413.8 442.7,414.4 443.7,415.1C444.7,415.7 445.7,416.3 446.7,416.9C447.7,417.6 448.7,418.2 449.7,418.8C450.8,419.4 451.8,420.0 452.8,420.5C453.8,421.1 454.8,421.7 455.9,422.3C456.9,422.8 457.9,423.4 459.0,423.9C460.0,424.5 461.1,425.0 462.1,425.6C463.1,426.1 464.2,426.7 465.2,427.2C466.3,427.7 467.3,428.2 468.4,428.8C469.4,429.3 470.5,429.8 471.5,430.3C472.6,430.8 473.7,431.3 474.7,431.8C475.8,432.3 476.8,432.8 477.9,433.3C479.0,433.8 480.0,434.3 481.1,434.8C482.1,435.3 483.2,435.7 484.3,436.2C485.3,436.7 486.4,437.2 487.5,437.7C488.6,438.2 489.6,438.6 490.7,439.1C491.8,439.6 492.8,440.1 493.9,440.6C495.0,441.1 496.0,441.5 497.1,442.0C498.2,442.5 499.2,443.0 500.3,443.5C501.4,444.0 502.4,444.4 503.5,444.9C504.6,445.4 505.6,445.9 506.7,446.4C507.8,446.9 508.8,447.4 509.9,447.9C511.0,448.4 512.0,448.9 513.1,449.4C514.1,449.9 515.2,450.4 516.3,451.0C517.3,451.5 518.4,452.0 519.4,452.5C520.5,453.1 521.5,453.6 522.6,454.1C523.6,454.7 524.7,455.2 525.7,455.7C526.8,456.3 527.8,456.8 528.9,457.3C529.9,457.9 531.0,458.4 532.0,459.0C533.1,459.5 534.1,460.0 535.2,460.6C536.2,461.1 537.3,461.7 538.3,462.2C539.4,462.7 540.4,463.3 541.5,463.8C542.5,464.3 543.6,464.9 544.6,465.4C545.7,465.9 546.7,466.4 547.8,467.0C548.8,467.5 549.9,468.0 551.0,468.5C552.0,469.0 553.1,469.5 554.1,470.0C555.2,470.5 556.3,471.0 557.3,471.5C558.4,471.9 559.5,472.4 560.6,472.9C561.6,473.3 562.7,473.8 563.8,474.2C564.9,474.7 566.0,475.1 567.0,475.6C568.1,476.0 569.2,476.4 570.3,476.8C571.4,477.2 573.1,477.8 573.6,478.0" stroke="#000000" stroke-width="7.5" fill="none" stroke-linecap="round" stroke-linejoin="round"/>
<path d="M146.0,179.3L196.0,179.7L200.5,182.0C200.8,182.5 201.8,184.0 202.4,185.0C203.1,186.0 203.7,187.0 204.4,188.0C205.0,189.0 205.7,189.9 206.3,190.9C207.0,191.9 207.6,192.9 208.3,193.9C208.9,194.9 209.6,195.8 210.3,196.8C210.9,197.8 211.6,198.8 212.3,199.7C212.9,200.7 213.6,201.7 214.3,202.6C214.9,203.6 215.6,204.6 216.3,205.5C217.0,206.5 217.7,207.4 218.3,208.4C219.0,209.3 219.7,210.3 220.4,211.2C221.1,212.2 221.8,213.1 222.5,214.1C223.2,215.0 223.9,216.0 224.6,216.9C225.3,217.9 226.0,218.8 226.7,219.7C227.4,220.7 228.1,221.6 228.8,222.5C229.5,223.5 230.2,224.4 230.9,225.3C231.6,226.2 232.3,227.2 233.1,228.1C233.8,229.0 234.5,229.9 235.2,230.8C236.0,231.8 236.7,232.7 237.4,233.6C238.1,234.5 238.9,235.4 239.6,236.3C240.3,237.2 241.1,238.1 241.8,239.0C242.6,239.9 243.3,240.8 244.1,241.7C244.8,242.6 245.5,243.5 246.3,244.4C247.1,245.3 247.8,246.2 248.6,247.1C249.3,248.0 250.1,248.9 250.8,249.7C251.6,250.6 252.4,251.5 253.1,252.4C253.9,253.3 254.7,254.1 255.4,255.0C256.2,255.9 257.0,256.8 257.8,257.6C258.6,258.5 259.3,259.4 260.1,260.2C260.9,261.1 261.7,262.0 262.5,262.8C263.3,263.7 264.1,264.6 264.9,265.4C265.7,266.3 266.5,267.1 267.3,268.0C268.1,268.8 268.9,269.7 269.7,270.5C270.5,271.4 271.3,272.2 272.1,273.1C272.9,273.9 273.7,274.8 274.5,275.6C275.4,276.5 276.2,277.3 277.0,278.1C277.8,279.0 278.7,279.8 279.5,280.6C280.3,281.5 281.1,282.3 282.0,283.1C282.8,284.0 283.7,284.8 284.5,285.6C285.3,286.4 286.2,287.3 287.0,288.1C287.9,288.9 288.7,289.7 289.6,290.5C290.4,291.4 291.3,292.2 292.1,293.0C293.0,293.8 293.9,294.6 294.7,295.4C295.6,296.2 296.5,297.0 297.3,297.8C298.2,298.6 299.1,299.4 300.0,300.2C300.8,301.0 301.7,301.8 302.6,302.6C303.5,303.4 304.4,304.1 305.3,304.9C306.2,305.7 307.1,306.5 308.0,307.2C308.9,308.0 309.8,308.8 310.7,309.5C311.6,310.3 312.5,311.0 313.4,311.8C314.3,312.5 315.2,313.2 316.2,314.0C317.1,314.7 318.0,315.4 319.0,316.2C319.9,316.9 320.8,317.6 321.8,318.3C322.7,319.0 323.7,319.7 324.6,320.4C325.6,321.1 326.5,321.7 327.5,322.4C328.4,323.1 329.4,323.8 330.4,324.4C331.3,325.1 332.3,325.7 333.3,326.4C334.3,327.0 335.3,327.6 336.3,328.3C337.2,328.9 338.2,329.5 339.2,330.1C340.2,330.7 341.2,331.3 342.3,331.9C343.3,332.5 344.3,333.0 345.3,333.6C346.3,334.2 347.4,334.7 348.4,335.2C349.4,335.8 350.5,336.3 351.5,336.8C352.6,337.4 353.6,337.9 354.7,338.4C355.7,338.9 356.8,339.3 357.8,339.8C358.9,340.3 360.0,340.7 361.1,341.2C362.1,341.6 363.2,342.1 364.3,342.5C365.4,342.9 366.5,343.4 367.6,343.8C368.7,344.2 369.8,344.6 370.9,345.0C372.0,345.4 373.1,345.7 374.2,346.1C375.3,346.5 376.4,346.8 377.6,347.2C378.7,347.5 379.8,347.9 380.9,348.2C382.1,348.6 383.2,348.9 384.3,349.2C385.5,349.5 386.6,349.8 387.7,350.1C388.9,350.4 390.0,350.7 391.2,351.0C392.3,351.2 393.5,351.5 394.6,351.8C395.8,352.0 396.9,352.3 398.1,352.5C399.2,352.8 400.4,353.0 401.5,353.3C402.7,353.5 403.9,353.7 405.0,353.9C406.2,354.1 407.3,354.3 408.5,354.5C409.7,354.7 410.8,354.9 412.0,355.1C413.2,355.3 414.3,355.5 415.5,355.7C416.7,355.8 417.8,356.0 419.0,356.2C420.2,356.3 421.4,356.5 422.5,356.6C423.7,356.8 424.9,356.9 426.0,357.1C427.2,357.2 428.4,357.3 429.5,357.4C430.7,357.6 431.9,357.7 433.1,357.8C434.2,357.9 435.4,358.0 436.6,358.1C437.7,358.2 438.9,358.3 440.1,358.4C441.2,358.5 442.4,358.6 443.6,358.7C444.7,358.8 445.9,358.8 447.1,358.9C448.2,359.0 449.4,359.0 450.6,359.1C451.7,359.2 452.9,359.2 454.1,359.3C455.3,359.4 456.4,359.4 457.6,359.5C458.8,359.5 459.9,359.6 461.1,359.6C462.3,359.7 463.4,359.7 464.6,359.7C465.8,359.8 466.9,359.8 468.1,359.9C469.3,359.9 470.4,359.9 471.6,360.0C472.8,360.0 473.9,360.0 475.1,360.0C476.3,360.1 477.4,360.1 478.6,360.1C479.8,360.1 481.0,360.2 482.1,360.2C483.3,360.2 484.5,360.2 485.6,360.2C486.8,360.3 488.0,360.3 489.2,360.3C490.3,360.3 491.5,360.3 492.7,360.3C493.9,360.4 495.0,360.4 496.2,360.4C497.4,360.4 498.6,360.4 499.7,360.4C500.9,360.5 502.1,360.5 503.3,360.5C504.4,360.5 505.6,360.5 506.8,360.5C508.0,360.6 509.2,360.6 510.3,360.6C511.5,360.6 512.7,360.7 513.9,360.7C515.1,360.7 516.2,360.8 517.4,360.8C518.6,360.9 519.8,360.9 520.9,361.0C522.1,361.1 523.3,361.1 524.5,361.2C525.6,361.3 526.8,361.4 528.0,361.6C529.1,361.7 530.3,361.8 531.5,362.0C532.6,362.1 533.8,362.3 534.9,362.5C536.1,362.7 537.2,362.9 538.4,363.1C539.5,363.3 540.7,363.6 541.8,363.8C543.0,364.1 544.1,364.4 545.2,364.7C546.3,365.1 547.5,365.4 548.6,365.8C549.7,366.1 550.8,366.5 551.9,366.9C553.0,367.3 554.1,367.8 555.2,368.2C556.3,368.6 557.4,369.1 558.5,369.6C559.6,370.1 560.7,370.6 561.8,371.1C562.9,371.6 564.0,372.1 565.0,372.7C566.0,373.4 567.0,374.0 567.9,374.8C568.8,375.5 569.6,376.3 570.4,377.2C571.1,378.0 571.8,378.9 572.4,379.9C573.0,380.8 573.5,381.8 573.9,382.9C574.4,383.9 574.8,385.0 575.1,386.1C575.5,387.1 575.8,388.3 576.0,389.4C576.3,390.6 576.4,391.7 576.6,392.9C576.7,394.1 576.9,395.3 576.9,396.5C577.0,397.8 577.1,399.0 577.1,400.2C577.1,401.5 577.2,402.7 577.2,404.0C577.2,405.2 577.1,406.5 577.1,407.7C577.1,408.9 577.1,410.2 577.0,411.4C577.0,412.6 577.0,413.9 577.0,415.1C577.0,416.3 577.0,417.4 577.0,418.6C577.0,419.8 577.0,421.0 577.0,422.1C577.1,423.3 577.1,424.4 577.1,425.6C577.1,426.7 577.2,427.8 577.2,429.0C577.2,430.1 577.3,431.2 577.3,432.4C577.4,433.5 577.4,434.6 577.4,435.7C577.5,436.9 577.5,438.0 577.6,439.1C577.6,440.2 577.6,441.4 577.7,442.5C577.7,443.6 577.8,444.8 577.8,445.9C577.8,447.0 577.9,448.2 577.9,449.3C577.9,450.5 577.9,451.6 578.0,452.8C578.0,454.0 578.0,455.1 578.0,456.3C578.1,457.5 578.1,458.6 578.1,459.8C578.1,461.0 578.1,462.2 578.1,463.4C578.2,464.6 578.2,465.7 578.2,466.9C578.2,468.1 578.2,469.3 578.2,470.5C578.2,471.7 578.2,472.9 578.2,474.1C578.2,475.3 578.3,476.5 578.3,477.7C578.3,478.9 578.3,480.1 578.3,481.3C578.3,482.5 578.3,483.7 578.3,484.9C578.3,486.1 578.3,487.3 578.3,488.5C578.3,489.7 578.3,490.9 578.4,492.1C578.4,493.3 578.4,494.5 578.4,495.7C578.4,496.9 578.4,498.1 578.4,499.3C578.4,500.4 578.5,501.6 578.5,502.8C578.5,504.0 578.5,505.2 578.5,506.3C578.5,507.5 578.6,508.7 578.6,509.9C578.6,511.0 578.6,512.2 578.7,513.3C578.7,514.5 578.7,515.7 578.8,516.8C578.8,517.9 578.8,519.1 578.9,520.2C578.9,521.4 579.0,523.0 579.0,523.6" stroke="#000000" stroke-width="7.5" fill="none" stroke-linecap="round" stroke-linejoin="round"/>
<path d="M146.0,179.8L220.0,180.4C220.6,180.4 222.3,180.4 223.5,180.4C224.7,180.4 225.8,180.4 227.0,180.4C228.2,180.4 229.4,180.4 230.5,180.4C231.7,180.4 232.9,180.4 234.1,180.4C235.3,180.4 236.4,180.4 237.6,180.5C238.8,180.5 240.0,180.5 241.2,180.5C242.4,180.5 243.6,180.5 244.7,180.5C245.9,180.6 247.1,180.6 248.3,180.6C249.5,180.6 250.7,180.6 251.9,180.6C253.1,180.7 254.3,180.7 255.4,180.7C256.6,180.7 257.8,180.7 259.0,180.8C260.2,180.8 261.4,180.8 262.6,180.8C263.8,180.8 265.0,180.9 266.2,180.9C267.3,180.9 268.5,180.9 269.7,180.9C270.9,180.9 272.1,181.0 273.3,181.0C274.5,181.0 275.7,181.0 276.8,181.0C278.0,181.0 279.2,181.1 280.4,181.1C281.6,181.1 282.8,181.1 283.9,181.1C285.1,181.1 286.3,181.1 287.5,181.1C288.7,181.1 289.8,181.1 291.0,181.1C292.2,181.1 293.3,181.2 294.5,181.2C295.7,181.2 296.9,181.1 298.0,181.1C299.2,181.1 300.3,181.1 301.5,181.1C302.7,181.1 303.8,181.1 305.0,181.1C306.2,181.1 307.3,181.1 308.5,181.1C309.7,181.1 310.8,181.1 312.0,181.1C313.2,181.1 314.4,181.0 315.6,181.1C316.9,181.1 318.1,181.1 319.3,181.1C320.5,181.2 321.8,181.2 323.0,181.3C324.2,181.4 325.4,181.6 326.5,181.8C327.7,182.1 328.8,182.3 329.9,182.7C330.9,183.1 331.9,183.6 332.9,184.2C333.8,184.8 334.7,185.4 335.6,186.2C336.4,186.9 337.2,187.7 338.0,188.6C338.8,189.4 339.5,190.4 340.2,191.3C340.9,192.3 341.5,193.3 342.1,194.3C342.7,195.4 343.3,196.5 343.9,197.6C344.4,198.6 344.9,199.8 345.4,200.9C345.9,202.0 346.4,203.1 346.9,204.2C347.3,205.3 347.8,206.5 348.2,207.6C348.6,208.7 349.0,209.8 349.4,211.0C349.7,212.1 350.1,213.2 350.4,214.4C350.8,215.5 351.1,216.6 351.4,217.8C351.7,218.9 352.0,220.0 352.3,221.2C352.5,222.3 352.8,223.5 353.0,224.6C353.3,225.8 353.5,226.9 353.7,228.1C354.0,229.2 354.2,230.4 354.4,231.5C354.5,232.7 354.7,233.8 354.9,235.0C355.1,236.1 355.2,237.3 355.4,238.4C355.5,239.6 355.7,240.8 355.8,241.9C355.9,243.1 356.1,244.3 356.2,245.4C356.3,246.6 356.4,247.8 356.5,248.9C356.6,250.1 356.7,251.3 356.8,252.5C356.9,253.6 357.0,254.8 357.1,256.0C357.2,257.2 357.3,258.3 357.4,259.5C357.5,260.7 357.5,261.9 357.6,263.1C357.7,264.3 357.8,265.4 357.9,266.6C357.9,267.8 358.0,269.0 358.1,270.2C358.2,271.4 358.3,272.6 358.4,273.8C358.5,275.0 358.5,276.2 358.6,277.4C358.7,278.6 358.8,279.8 358.9,281.0C359.0,282.2 359.1,283.4 359.2,284.6C359.4,285.8 359.5,286.9 359.6,288.1C359.7,289.3 359.9,290.5 360.0,291.7C360.2,292.9 360.3,294.1 360.5,295.3C360.6,296.4 360.8,297.6 361.0,298.8C361.2,300.0 361.4,301.1 361.6,302.3C361.8,303.5 362.0,304.6 362.2,305.8C362.5,307.0 362.7,308.1 363.0,309.3C363.2,310.4 363.5,311.6 363.8,312.7C364.1,313.8 364.4,315.0 364.7,316.1C365.1,317.2 365.4,318.3 365.8,319.4C366.1,320.5 366.5,321.6 366.9,322.7C367.3,323.8 367.7,324.9 368.2,326.0C368.6,327.1 369.1,328.1 369.6,329.2C370.0,330.3 370.5,331.3 371.1,332.3C371.6,333.4 372.1,334.4 372.7,335.4C373.2,336.5 373.8,337.5 374.4,338.5C375.0,339.5 375.6,340.5 376.3,341.5C376.9,342.5 377.5,343.4 378.2,344.4C378.9,345.4 379.5,346.3 380.2,347.3C380.9,348.2 381.6,349.2 382.4,350.1C383.1,351.1 383.8,352.0 384.6,352.9C385.3,353.8 386.1,354.7 386.9,355.6C387.6,356.5 388.4,357.4 389.2,358.3C390.0,359.2 390.8,360.1 391.7,360.9C392.5,361.8 393.3,362.7 394.1,363.5C395.0,364.4 395.8,365.2 396.7,366.0C397.5,366.9 398.4,367.7 399.3,368.5C400.2,369.3 401.0,370.1 401.9,370.9C402.8,371.7 403.7,372.5 404.6,373.3C405.5,374.1 406.4,374.9 407.3,375.6C408.2,376.4 409.2,377.1 410.1,377.9C411.0,378.6 411.9,379.4 412.9,380.1C413.8,380.9 414.7,381.6 415.7,382.3C416.6,383.0 417.5,383.7 418.5,384.4C419.4,385.1 420.4,385.8 421.3,386.5C422.3,387.2 423.2,387.9 424.2,388.6C425.2,389.3 426.1,389.9 427.1,390.6C428.1,391.3 429.0,391.9 430.0,392.6C431.0,393.2 432.0,393.9 433.0,394.5C434.0,395.1 434.9,395.8 435.9,396.4C436.9,397.0 437.9,397.7 438.9,398.3C439.9,398.9 440.9,399.5 441.9,400.1C442.9,400.7 443.9,401.3 444.9,401.9C445.9,402.5 447.0,403.1 448.0,403.7C449.0,404.3 450.0,404.9 451.0,405.5C452.0,406.1 453.1,406.6 454.1,407.2C455.1,407.8 456.1,408.3 457.2,408.9C458.2,409.5 459.2,410.0 460.3,410.6C461.3,411.2 462.3,411.7 463.4,412.3C464.4,412.8 465.5,413.4 466.5,413.9C467.6,414.5 468.6,415.0 469.6,415.6C470.7,416.1 471.7,416.6 472.8,417.2C473.8,417.7 474.9,418.3 476.0,418.8C477.0,419.3 478.1,419.8 479.1,420.4C480.2,420.9 481.2,421.4 482.3,421.9C483.4,422.5 484.4,423.0 485.5,423.5C486.6,424.0 487.6,424.5 488.7,425.0C489.8,425.6 490.8,426.1 491.9,426.6C493.0,427.1 494.0,427.6 495.1,428.1C496.2,428.6 497.2,429.1 498.3,429.6C499.4,430.1 500.5,430.6 501.5,431.1C502.6,431.6 503.7,432.1 504.8,432.6C505.8,433.1 506.9,433.6 508.0,434.1C509.1,434.6 510.1,435.1 511.2,435.6C512.3,436.1 513.4,436.6 514.5,437.1C515.5,437.6 516.6,438.0 517.7,438.5C518.8,439.0 519.9,439.5 520.9,440.0C522.0,440.5 523.1,441.0 524.2,441.5C525.2,442.0 526.3,442.5 527.4,442.9C528.5,443.4 529.6,443.9 530.6,444.4C531.7,444.9 532.8,445.4 533.9,445.9C535.0,446.4 536.0,446.9 537.1,447.4C538.2,447.8 539.3,448.3 540.3,448.8C541.4,449.3 542.5,449.8 543.6,450.3C544.6,450.8 545.7,451.3 546.8,451.8C547.9,452.3 548.9,452.8 550.0,453.3C551.1,453.8 552.2,454.3 553.2,454.8C554.3,455.3 555.4,455.8 556.4,456.3C557.5,456.8 558.6,457.3 559.6,457.8C560.7,458.3 561.8,458.8 562.8,459.3C563.9,459.8 564.9,460.3 566.0,460.8C567.1,461.3 568.1,461.9 569.2,462.4C570.2,462.9 571.3,463.4 572.3,463.9C573.4,464.5 575.0,465.2 575.5,465.5" stroke="#ff0000" stroke-width="7.5" fill="none" stroke-linecap="round" stroke-linejoin="round"/>
<path d="M146.0,179.8L217.0,180.5L221.5,182.5C221.8,183.0 222.9,184.4 223.6,185.4C224.3,186.3 225.0,187.3 225.7,188.2C226.4,189.2 227.1,190.1 227.8,191.1C228.5,192.0 229.2,193.0 229.9,193.9C230.6,194.8 231.3,195.8 232.0,196.7C232.7,197.7 233.4,198.6 234.2,199.6C234.9,200.5 235.6,201.5 236.3,202.4C237.0,203.3 237.7,204.3 238.4,205.2C239.1,206.2 239.8,207.1 240.5,208.0C241.2,209.0 241.9,209.9 242.7,210.8C243.4,211.8 244.1,212.7 244.8,213.6C245.5,214.6 246.2,215.5 246.9,216.4C247.6,217.4 248.4,218.3 249.1,219.2C249.8,220.1 250.5,221.1 251.2,222.0C251.9,222.9 252.7,223.8 253.4,224.8C254.1,225.7 254.8,226.6 255.6,227.5C256.3,228.5 257.0,229.4 257.7,230.3C258.4,231.2 259.2,232.1 259.9,233.1C260.6,234.0 261.4,234.9 262.1,235.8C262.8,236.7 263.6,237.6 264.3,238.5C265.0,239.5 265.8,240.4 266.5,241.3C267.2,242.2 268.0,243.1 268.7,244.0C269.4,244.9 270.2,245.8 270.9,246.7C271.7,247.6 272.4,248.5 273.1,249.4C273.9,250.3 274.6,251.2 275.4,252.1C276.1,253.0 276.9,253.9 277.6,254.8C278.4,255.7 279.1,256.6 279.9,257.5C280.7,258.4 281.4,259.3 282.2,260.2C282.9,261.1 283.7,262.0 284.4,262.9C285.2,263.8 286.0,264.7 286.7,265.6C287.5,266.4 288.3,267.3 289.0,268.2C289.8,269.1 290.6,270.0 291.4,270.9C292.1,271.8 292.9,272.6 293.7,273.5C294.5,274.4 295.2,275.3 296.0,276.2C296.8,277.0 297.6,277.9 298.4,278.8C299.2,279.7 300.0,280.5 300.7,281.4C301.5,282.3 302.3,283.2 303.1,284.0C303.9,284.9 304.7,285.8 305.5,286.6C306.3,287.5 307.1,288.4 307.9,289.2C308.7,290.1 309.5,291.0 310.3,291.8C311.2,292.7 312.0,293.5 312.8,294.4C313.6,295.2 314.4,296.1 315.2,297.0C316.1,297.8 316.9,298.7 317.7,299.5C318.5,300.3 319.4,301.2 320.2,302.0C321.0,302.9 321.9,303.7 322.7,304.5C323.6,305.4 324.4,306.2 325.3,307.0C326.1,307.8 327.0,308.6 327.8,309.4C328.7,310.2 329.6,311.1 330.4,311.8C331.3,312.6 332.2,313.4 333.0,314.2C333.9,315.0 334.8,315.8 335.7,316.5C336.6,317.3 337.5,318.1 338.4,318.8C339.3,319.6 340.2,320.3 341.1,321.1C342.0,321.8 342.9,322.5 343.8,323.2C344.8,324.0 345.7,324.7 346.6,325.4C347.6,326.1 348.5,326.8 349.4,327.4C350.4,328.1 351.3,328.8 352.3,329.5C353.3,330.1 354.2,330.8 355.2,331.4C356.2,332.0 357.2,332.7 358.1,333.3C359.1,333.9 360.1,334.5 361.1,335.1C362.1,335.7 363.1,336.3 364.2,336.8C365.2,337.4 366.2,337.9 367.2,338.5C368.3,339.0 369.3,339.5 370.4,340.1C371.4,340.6 372.5,341.1 373.5,341.6C374.6,342.1 375.6,342.5 376.7,343.0C377.8,343.5 378.9,343.9 379.9,344.4C381.0,344.8 382.1,345.2 383.2,345.6C384.3,346.1 385.4,346.5 386.5,346.9C387.6,347.3 388.7,347.6 389.8,348.0C391.0,348.4 392.1,348.8 393.2,349.1C394.3,349.5 395.5,349.8 396.6,350.1C397.7,350.5 398.9,350.8 400.0,351.1C401.1,351.4 402.3,351.7 403.4,352.0C404.6,352.3 405.7,352.5 406.9,352.8C408.0,353.1 409.2,353.3 410.3,353.6C411.5,353.8 412.7,354.1 413.8,354.3C415.0,354.5 416.1,354.7 417.3,355.0C418.5,355.2 419.6,355.4 420.8,355.6C422.0,355.7 423.2,355.9 424.3,356.1C425.5,356.3 426.7,356.4 427.9,356.6C429.0,356.7 430.2,356.9 431.4,357.0C432.5,357.2 433.7,357.3 434.9,357.4C436.1,357.5 437.2,357.6 438.4,357.7C439.6,357.8 440.8,357.9 441.9,358.0C443.1,358.1 444.3,358.2 445.5,358.3C446.7,358.4 447.8,358.4 449.0,358.5C450.2,358.5 451.3,358.6 452.5,358.7C453.7,358.7 454.9,358.8 456.0,358.8C457.2,358.8 458.4,358.9 459.6,358.9C460.7,358.9 461.9,359.0 463.1,359.0C464.3,359.0 465.4,359.0 466.6,359.1C467.8,359.1 469.0,359.1 470.1,359.1C471.3,359.1 472.5,359.1 473.7,359.1C474.8,359.1 476.0,359.1 477.2,359.2C478.4,359.2 479.5,359.2 480.7,359.2C481.9,359.2 483.1,359.2 484.2,359.2C485.4,359.2 486.6,359.2 487.7,359.2C488.9,359.2 490.1,359.2 491.3,359.2C492.4,359.2 493.6,359.2 494.8,359.2C496.0,359.2 497.1,359.3 498.3,359.3C499.5,359.3 500.6,359.3 501.8,359.3C503.0,359.3 504.2,359.4 505.3,359.4C506.5,359.4 507.7,359.5 508.8,359.5C510.0,359.5 511.2,359.6 512.3,359.6C513.5,359.7 514.7,359.7 515.9,359.8C517.0,359.8 518.2,359.9 519.4,360.0C520.5,360.0 521.7,360.1 522.9,360.2C524.0,360.3 525.2,360.4 526.4,360.5C527.5,360.6 528.7,360.7 529.9,360.9C531.0,361.0 532.2,361.2 533.4,361.3C534.5,361.5 535.7,361.7 536.9,361.8C538.0,362.0 539.2,362.2 540.3,362.5C541.5,362.7 542.7,362.9 543.8,363.2C545.0,363.5 546.1,363.7 547.3,364.0C548.4,364.3 549.6,364.6 550.7,365.0C551.9,365.3 553.0,365.7 554.1,366.1C555.3,366.5 556.4,366.9 557.5,367.3C558.6,367.8 559.7,368.2 560.8,368.7C561.8,369.2 562.9,369.8 563.9,370.3C565.0,370.9 566.0,371.5 566.9,372.2C567.9,372.8 568.8,373.5 569.7,374.3C570.5,375.0 571.3,375.8 572.0,376.7C572.7,377.6 573.3,378.5 573.9,379.5C574.4,380.5 574.9,381.5 575.3,382.6C575.8,383.7 576.1,384.8 576.5,385.9C576.8,387.1 577.0,388.2 577.3,389.4C577.5,390.6 577.7,391.8 577.8,393.0C578.0,394.2 578.1,395.4 578.2,396.6C578.3,397.8 578.3,399.0 578.3,400.2C578.4,401.4 578.4,402.6 578.4,403.8C578.4,405.0 578.4,406.2 578.4,407.4C578.4,408.6 578.3,409.8 578.3,411.0C578.3,412.2 578.3,413.3 578.2,414.5C578.2,415.7 578.2,416.9 578.2,418.0C578.2,419.2 578.2,420.4 578.2,421.5C578.2,422.7 578.2,423.9 578.2,425.0C578.2,426.2 578.2,427.4 578.2,428.5C578.3,429.7 578.3,430.9 578.3,432.0C578.3,433.2 578.3,434.3 578.3,435.5C578.3,436.7 578.4,437.8 578.4,439.0C578.4,440.1 578.4,441.3 578.4,442.5C578.5,443.6 578.5,444.8 578.5,446.0C578.5,447.1 578.5,448.3 578.5,449.5C578.6,450.6 578.6,451.8 578.6,453.0C578.6,454.2 578.6,455.3 578.6,456.5C578.6,457.7 578.7,458.8 578.7,460.0C578.7,461.2 578.7,462.4 578.7,463.6C578.7,464.7 578.7,465.9 578.7,467.1C578.8,468.3 578.8,469.5 578.8,470.6C578.8,471.8 578.8,473.0 578.8,474.2C578.8,475.4 578.8,476.5 578.8,477.7C578.9,478.9 578.9,480.1 578.9,481.3C578.9,482.5 578.9,483.6 578.9,484.8C578.9,486.0 578.9,487.2 579.0,488.4C579.0,489.6 579.0,490.7 579.0,491.9C579.0,493.1 579.0,494.3 579.0,495.5C579.1,496.6 579.1,497.8 579.1,499.0C579.1,500.2 579.1,501.4 579.1,502.5C579.2,503.7 579.2,504.9 579.2,506.1C579.2,507.2 579.2,508.4 579.3,509.6C579.3,510.8 579.3,511.9 579.3,513.1C579.4,514.3 579.4,515.4 579.4,516.6C579.4,517.8 579.5,518.9 579.5,520.1C579.5,521.3 579.6,523.0 579.6,523.6" stroke="#ff0000" stroke-width="7.5" fill="none" stroke-linecap="round" stroke-linejoin="round"/>
<path d="M151.0,328.3L190.0,328.3C190.6,328.2 192.4,328.0 193.6,327.8C194.8,327.7 196.0,327.6 197.2,327.5C198.4,327.5 199.6,327.4 200.8,327.4C202.0,327.4 203.2,327.4 204.4,327.4C205.6,327.4 206.8,327.5 207.9,327.5C209.1,327.5 210.3,327.6 211.5,327.7C212.7,327.7 213.9,327.8 215.1,327.9C216.2,327.9 217.4,328.0 218.6,328.1C219.8,328.1 221.0,328.2 222.2,328.3C223.4,328.3 224.5,328.4 225.7,328.4C226.9,328.4 228.1,328.5 229.3,328.5C230.5,328.5 231.6,328.4 232.8,328.4C234.0,328.4 235.2,328.3 236.4,328.3C237.6,328.3 238.8,328.2 240.0,328.2C241.2,328.2 242.4,328.1 243.6,328.1C244.8,328.1 246.0,328.1 247.2,328.2C248.4,328.2 249.6,328.3 250.9,328.4C252.1,328.5 253.3,328.6 254.5,328.9C255.6,329.1 256.8,329.4 257.8,329.8C258.9,330.2 259.9,330.8 260.8,331.4C261.7,332.1 262.4,332.9 263.1,333.7C263.8,334.6 264.4,335.6 264.9,336.6C265.4,337.7 265.8,338.8 266.2,340.0C266.5,341.2 266.8,342.4 267.1,343.6C267.3,344.9 267.5,346.1 267.7,347.4C267.9,348.6 268.0,349.9 268.2,351.1C268.3,352.4 268.4,353.6 268.5,354.8C268.6,356.0 268.7,357.1 268.8,358.3C268.9,359.5 268.9,360.6 269.0,361.8C269.1,363.0 269.1,364.1 269.2,365.3C269.2,366.4 269.3,367.6 269.3,368.7C269.4,369.9 269.5,371.1 269.5,372.3C269.6,373.4 269.7,374.6 269.8,375.8C269.9,377.0 269.9,378.2 270.0,379.4C270.1,380.6 270.3,381.8 270.4,383.0C270.5,384.2 270.6,385.4 270.8,386.6C270.9,387.8 271.1,389.0 271.3,390.2C271.4,391.4 271.6,392.6 271.8,393.8C272.1,395.0 272.3,396.2 272.5,397.4C272.8,398.6 273.0,399.7 273.3,400.9C273.6,402.1 273.9,403.2 274.2,404.4C274.6,405.5 274.9,406.6 275.3,407.8C275.7,408.9 276.1,410.0 276.5,411.1C276.9,412.2 277.4,413.3 277.9,414.3C278.3,415.4 278.8,416.5 279.3,417.5C279.9,418.6 280.4,419.6 281.0,420.6C281.5,421.7 282.1,422.7 282.7,423.7C283.3,424.7 283.9,425.7 284.6,426.6C285.2,427.6 285.9,428.6 286.6,429.5C287.2,430.5 287.9,431.5 288.7,432.4C289.4,433.3 290.1,434.3 290.8,435.2C291.6,436.1 292.3,437.0 293.1,437.9C293.9,438.8 294.7,439.7 295.5,440.6C296.3,441.5 297.1,442.3 297.9,443.2C298.7,444.1 299.6,444.9 300.4,445.8C301.3,446.6 302.1,447.5 303.0,448.3C303.9,449.1 304.7,449.9 305.6,450.8C306.5,451.6 307.4,452.4 308.3,453.2C309.2,454.0 310.1,454.8 311.0,455.6C311.9,456.4 312.9,457.2 313.8,457.9C314.7,458.7 315.7,459.5 316.6,460.3C317.5,461.0 318.5,461.8 319.4,462.5C320.4,463.3 321.3,464.0 322.2,464.8C323.2,465.5 324.1,466.3 325.1,467.0C326.0,467.8 327.0,468.5 327.9,469.2C328.9,469.9 329.8,470.7 330.8,471.4C331.7,472.1 332.7,472.8 333.6,473.5C334.6,474.2 335.5,474.9 336.5,475.6C337.5,476.3 338.4,477.0 339.4,477.7C340.3,478.4 341.3,479.1 342.2,479.8C343.2,480.5 344.2,481.2 345.1,481.9C346.1,482.5 347.1,483.2 348.0,483.9C349.0,484.5 350.0,485.2 350.9,485.9C351.9,486.5 352.9,487.2 353.9,487.8C354.8,488.5 355.8,489.1 356.8,489.8C357.8,490.4 358.8,491.1 359.8,491.7C360.8,492.4 361.7,493.0 362.7,493.6C363.7,494.2 364.7,494.9 365.7,495.5C366.7,496.1 367.8,496.7 368.8,497.3C369.8,498.0 370.8,498.6 371.8,499.2C372.8,499.8 373.9,500.4 374.9,501.0C375.9,501.6 377.0,502.2 378.0,502.8C379.0,503.4 380.1,504.0 381.1,504.5C382.2,505.1 383.2,505.7 384.3,506.3C385.3,506.9 386.4,507.4 387.5,508.0C388.5,508.6 390.2,509.4 390.7,509.7" stroke="#000000" stroke-width="7.5" fill="none" stroke-linecap="round" stroke-linejoin="round"/>
<path d="M151.0,328.3L163.0,328.3L168.0,329.0C168.4,329.4 169.6,330.7 170.4,331.6C171.2,332.5 172.0,333.4 172.8,334.2C173.6,335.1 174.4,336.0 175.2,336.8C176.0,337.7 176.8,338.6 177.6,339.4C178.5,340.3 179.3,341.1 180.1,342.0C180.9,342.9 181.7,343.7 182.5,344.6C183.3,345.4 184.2,346.3 185.0,347.2C185.8,348.0 186.6,348.9 187.4,349.7C188.3,350.6 189.1,351.4 189.9,352.3C190.7,353.1 191.6,354.0 192.4,354.8C193.2,355.7 194.0,356.5 194.9,357.3C195.7,358.2 196.5,359.0 197.4,359.9C198.2,360.7 199.1,361.5 199.9,362.4C200.7,363.2 201.6,364.0 202.4,364.9C203.3,365.7 204.1,366.5 205.0,367.4C205.8,368.2 206.7,369.0 207.5,369.8C208.4,370.7 209.2,371.5 210.1,372.3C210.9,373.1 211.8,373.9 212.7,374.7C213.5,375.5 214.4,376.4 215.2,377.2C216.1,378.0 217.0,378.8 217.9,379.6C218.7,380.4 219.6,381.2 220.5,382.0C221.3,382.8 222.2,383.6 223.1,384.4C224.0,385.2 224.9,386.0 225.8,386.7C226.6,387.5 227.5,388.3 228.4,389.1C229.3,389.9 230.2,390.7 231.1,391.4C232.0,392.2 232.9,393.0 233.8,393.8C234.7,394.5 235.6,395.3 236.5,396.1C237.4,396.8 238.4,397.6 239.3,398.3C240.2,399.1 241.1,399.8 242.1,400.5C243.0,401.3 243.9,402.0 244.9,402.7C245.8,403.4 246.8,404.1 247.7,404.8C248.7,405.5 249.6,406.2 250.6,406.8C251.6,407.5 252.5,408.1 253.5,408.8C254.5,409.4 255.5,410.0 256.5,410.7C257.5,411.3 258.5,411.9 259.5,412.4C260.6,413.0 261.6,413.6 262.6,414.1C263.7,414.7 264.7,415.2 265.8,415.7C266.8,416.2 267.9,416.7 269.0,417.1C270.1,417.6 271.1,418.1 272.2,418.5C273.3,418.9 274.5,419.3 275.6,419.7C276.7,420.1 277.8,420.5 278.9,420.8C280.1,421.2 281.2,421.5 282.4,421.9C283.5,422.2 284.7,422.5 285.8,422.8C287.0,423.1 288.1,423.4 289.3,423.6C290.5,423.9 291.7,424.1 292.8,424.4C294.0,424.6 295.2,424.8 296.4,425.1C297.5,425.3 298.7,425.5 299.9,425.7C301.1,425.9 302.3,426.1 303.5,426.2C304.7,426.4 305.8,426.6 307.0,426.7C308.2,426.9 309.4,427.0 310.6,427.2C311.8,427.3 312.9,427.5 314.1,427.6C315.3,427.7 316.5,427.8 317.6,428.0C318.8,428.1 320.0,428.2 321.2,428.3C322.3,428.4 323.5,428.5 324.7,428.6C325.8,428.7 327.0,428.8 328.2,428.8C329.3,428.9 330.5,429.0 331.7,429.1C332.8,429.1 334.0,429.2 335.2,429.3C336.3,429.3 337.5,429.4 338.7,429.4C339.9,429.5 341.0,429.5 342.2,429.6C343.4,429.6 344.6,429.6 345.7,429.7C346.9,429.7 348.1,429.7 349.3,429.8C350.5,429.8 351.7,429.8 352.9,429.8C354.1,429.8 355.3,429.9 356.5,429.9C357.7,429.9 358.9,429.9 360.1,429.9C361.3,429.9 362.5,429.9 363.7,429.9C365.0,429.9 366.2,429.9 367.4,430.0C368.6,430.0 369.8,430.1 371.0,430.2C372.2,430.3 373.4,430.5 374.5,430.7C375.7,430.9 376.8,431.1 377.9,431.4C379.0,431.7 380.1,432.1 381.2,432.6C382.3,433.0 383.3,433.5 384.3,434.1C385.3,434.8 386.2,435.4 387.1,436.2C388.0,436.9 388.8,437.7 389.6,438.6C390.4,439.5 391.1,440.4 391.7,441.4C392.3,442.4 392.9,443.4 393.3,444.5C393.8,445.5 394.1,446.6 394.4,447.8C394.7,448.9 395.0,450.1 395.1,451.3C395.3,452.5 395.4,453.7 395.5,455.0C395.6,456.2 395.7,457.5 395.7,458.7C395.7,460.0 395.7,461.2 395.7,462.5C395.7,463.7 395.7,465.0 395.7,466.2C395.7,467.4 395.8,468.6 395.8,469.8C395.8,471.0 395.8,472.2 395.9,473.4C395.9,474.5 396.0,475.7 396.0,476.9C396.1,478.0 396.1,479.2 396.2,480.3C396.2,481.5 396.3,482.6 396.3,483.8C396.4,484.9 396.4,486.1 396.4,487.2C396.5,488.4 396.5,489.5 396.6,490.7C396.6,491.9 396.6,493.0 396.6,494.2C396.7,495.4 396.7,496.6 396.7,497.7C396.7,498.9 396.7,500.1 396.7,501.3C396.7,502.5 396.7,503.7 396.7,504.9C396.7,506.0 396.7,507.2 396.7,508.4C396.7,509.6 396.7,510.8 396.7,512.0C396.7,513.2 396.7,514.4 396.7,515.6C396.7,516.8 396.7,518.0 396.7,519.1C396.7,520.3 396.7,522.1 396.7,522.7" stroke="#000000" stroke-width="7.5" fill="none" stroke-linecap="round" stroke-linejoin="round"/>
<path d="M151.0,328.4L190.0,328.4C190.6,328.4 192.4,328.4 193.6,328.3C194.8,328.3 196.0,328.3 197.2,328.2C198.4,328.2 199.6,328.1 200.8,328.1C202.0,328.0 203.2,328.0 204.4,327.9C205.7,327.9 206.9,327.8 208.1,327.8C209.3,327.8 210.5,327.8 211.6,327.8C212.8,327.8 214.0,327.8 215.2,327.9C216.3,327.9 217.5,328.0 218.6,328.1C219.8,328.1 220.9,328.2 222.0,328.3C223.2,328.4 224.3,328.4 225.5,328.5C226.6,328.5 227.8,328.6 229.0,328.6C230.1,328.6 231.3,328.6 232.5,328.6C233.7,328.5 234.9,328.5 236.1,328.4C237.3,328.3 238.6,328.3 239.8,328.2C241.0,328.2 242.2,328.1 243.4,328.2C244.6,328.2 245.8,328.3 246.9,328.4C248.1,328.6 249.3,328.7 250.4,329.1C251.5,329.4 252.6,329.8 253.6,330.3C254.7,330.7 255.7,331.3 256.6,332.0C257.6,332.7 258.5,333.4 259.4,334.3C260.2,335.1 261.0,336.0 261.7,336.9C262.4,337.8 263.0,338.8 263.6,339.9C264.1,340.9 264.6,342.0 265.0,343.1C265.4,344.2 265.8,345.4 266.1,346.6C266.4,347.7 266.7,348.9 266.9,350.2C267.1,351.4 267.3,352.6 267.5,353.9C267.6,355.1 267.7,356.4 267.8,357.6C267.9,358.9 267.9,360.1 268.0,361.3C268.0,362.6 268.0,363.8 268.0,365.0C268.1,366.2 268.0,367.4 268.0,368.6C268.0,369.8 268.0,371.0 268.0,372.1C268.0,373.3 268.0,374.5 268.1,375.6C268.1,376.8 268.1,377.9 268.2,379.0C268.2,380.2 268.3,381.3 268.4,382.5C268.5,383.6 268.6,384.7 268.8,385.9C268.9,387.0 269.1,388.2 269.3,389.3C269.5,390.4 269.8,391.6 270.1,392.7C270.3,393.8 270.6,395.0 270.9,396.1C271.3,397.2 271.6,398.4 272.0,399.5C272.3,400.6 272.7,401.7 273.1,402.8C273.6,403.9 274.0,405.0 274.5,406.1C274.9,407.2 275.4,408.3 275.9,409.4C276.4,410.5 276.9,411.5 277.5,412.6C278.0,413.6 278.6,414.7 279.1,415.7C279.7,416.7 280.3,417.7 280.9,418.8C281.5,419.8 282.2,420.7 282.8,421.7C283.5,422.7 284.1,423.7 284.8,424.6C285.5,425.6 286.2,426.5 286.9,427.5C287.6,428.4 288.3,429.3 289.0,430.2C289.8,431.2 290.5,432.1 291.3,432.9C292.1,433.8 292.8,434.7 293.6,435.6C294.4,436.5 295.2,437.3 296.0,438.2C296.8,439.0 297.7,439.9 298.5,440.7C299.3,441.6 300.2,442.4 301.0,443.2C301.9,444.0 302.8,444.8 303.6,445.7C304.5,446.5 305.4,447.3 306.3,448.0C307.2,448.8 308.1,449.6 309.0,450.4C309.9,451.2 310.8,451.9 311.7,452.7C312.6,453.5 313.6,454.2 314.5,455.0C315.4,455.7 316.4,456.5 317.3,457.2C318.3,457.9 319.2,458.7 320.2,459.4C321.1,460.1 322.1,460.8 323.0,461.6C324.0,462.3 324.9,463.0 325.9,463.7C326.9,464.4 327.8,465.1 328.8,465.8C329.8,466.5 330.7,467.2 331.7,467.9C332.7,468.6 333.7,469.3 334.6,470.0C335.6,470.7 336.6,471.4 337.5,472.1C338.5,472.7 339.5,473.4 340.4,474.1C341.4,474.8 342.4,475.5 343.4,476.1C344.3,476.8 345.3,477.5 346.3,478.1C347.2,478.8 348.2,479.5 349.2,480.1C350.2,480.8 351.1,481.4 352.1,482.1C353.1,482.7 354.1,483.4 355.0,484.0C356.0,484.7 357.0,485.3 358.0,485.9C359.0,486.6 360.0,487.2 361.0,487.8C361.9,488.4 362.9,489.1 363.9,489.7C364.9,490.3 365.9,490.9 366.9,491.5C367.9,492.1 369.0,492.7 370.0,493.3C371.0,493.9 372.0,494.4 373.0,495.0C374.1,495.6 375.1,496.2 376.1,496.7C377.2,497.3 378.2,497.8 379.3,498.4C380.3,498.9 381.4,499.5 382.4,500.0C383.5,500.5 384.5,501.1 385.6,501.6C386.7,502.1 387.8,502.6 388.9,503.1C390.0,503.6 391.1,504.1 392.2,504.6C393.3,505.1 394.9,505.8 395.5,506.0" stroke="#ff0000" stroke-width="7.5" fill="none" stroke-linecap="round" stroke-linejoin="round"/>
<path d="M151.0,328.4L167.0,328.4L171.9,329.4C172.4,329.8 173.7,330.9 174.6,331.7C175.5,332.5 176.4,333.2 177.3,334.0C178.2,334.8 179.1,335.6 180.0,336.3C180.9,337.1 181.8,337.9 182.7,338.7C183.5,339.5 184.4,340.3 185.3,341.1C186.2,341.9 187.0,342.7 187.9,343.5C188.8,344.3 189.7,345.1 190.5,345.9C191.4,346.7 192.3,347.5 193.1,348.3C194.0,349.2 194.9,350.0 195.7,350.8C196.6,351.6 197.4,352.4 198.3,353.2C199.1,354.1 200.0,354.9 200.9,355.7C201.7,356.5 202.6,357.4 203.4,358.2C204.3,359.0 205.1,359.8 206.0,360.7C206.8,361.5 207.7,362.3 208.5,363.1C209.4,364.0 210.2,364.8 211.1,365.6C211.9,366.5 212.8,367.3 213.6,368.1C214.5,368.9 215.4,369.8 216.2,370.6C217.1,371.4 217.9,372.2 218.8,373.1C219.6,373.9 220.5,374.7 221.3,375.5C222.2,376.4 223.1,377.2 223.9,378.0C224.8,378.8 225.6,379.6 226.5,380.4C227.4,381.3 228.2,382.1 229.1,382.9C230.0,383.7 230.8,384.5 231.7,385.3C232.6,386.1 233.5,386.9 234.3,387.7C235.2,388.5 236.1,389.3 237.0,390.1C237.9,390.9 238.8,391.7 239.6,392.5C240.5,393.3 241.4,394.0 242.3,394.8C243.2,395.6 244.1,396.4 245.0,397.1C245.9,397.9 246.9,398.7 247.8,399.4C248.7,400.2 249.6,400.9 250.5,401.7C251.5,402.4 252.4,403.1 253.3,403.8C254.3,404.5 255.2,405.3 256.2,405.9C257.2,406.6 258.1,407.3 259.1,408.0C260.1,408.6 261.0,409.3 262.0,409.9C263.0,410.6 264.0,411.2 265.0,411.8C266.0,412.4 267.1,413.0 268.1,413.5C269.1,414.1 270.2,414.6 271.2,415.2C272.3,415.7 273.3,416.2 274.4,416.7C275.5,417.2 276.6,417.6 277.7,418.1C278.8,418.5 279.9,418.9 281.0,419.3C282.1,419.7 283.2,420.1 284.4,420.5C285.5,420.8 286.7,421.2 287.8,421.5C289.0,421.8 290.1,422.1 291.3,422.4C292.5,422.7 293.6,423.0 294.8,423.3C296.0,423.5 297.2,423.8 298.3,424.0C299.5,424.2 300.7,424.5 301.9,424.7C303.1,424.9 304.2,425.1 305.4,425.3C306.6,425.4 307.8,425.6 309.0,425.8C310.2,425.9 311.4,426.1 312.5,426.2C313.7,426.4 314.9,426.5 316.1,426.6C317.3,426.7 318.4,426.9 319.6,427.0C320.8,427.1 321.9,427.2 323.1,427.3C324.3,427.4 325.5,427.5 326.6,427.5C327.8,427.6 329.0,427.7 330.1,427.8C331.3,427.8 332.5,427.9 333.6,428.0C334.8,428.0 336.0,428.1 337.1,428.2C338.3,428.2 339.5,428.3 340.7,428.3C341.8,428.4 343.0,428.4 344.2,428.5C345.4,428.5 346.6,428.6 347.7,428.6C348.9,428.7 350.1,428.7 351.3,428.8C352.5,428.8 353.7,428.9 354.9,428.9C356.1,429.0 357.3,429.0 358.6,429.1C359.8,429.2 361.0,429.2 362.2,429.3C363.4,429.4 364.7,429.4 365.9,429.5C367.1,429.6 368.3,429.8 369.5,429.9C370.7,430.1 371.9,430.3 373.1,430.5C374.2,430.8 375.4,431.0 376.5,431.4C377.6,431.7 378.7,432.1 379.7,432.6C380.8,433.1 381.8,433.6 382.8,434.2C383.7,434.8 384.7,435.5 385.5,436.3C386.4,437.0 387.2,437.8 388.0,438.7C388.7,439.5 389.4,440.5 390.1,441.4C390.7,442.4 391.3,443.4 391.8,444.5C392.2,445.5 392.7,446.6 393.0,447.8C393.4,448.9 393.7,450.1 393.9,451.2C394.2,452.4 394.4,453.6 394.5,454.9C394.7,456.1 394.8,457.3 394.9,458.6C395.0,459.8 395.1,461.1 395.1,462.3C395.2,463.6 395.2,464.8 395.3,466.1C395.3,467.3 395.3,468.5 395.4,469.8C395.4,471.0 395.5,472.2 395.5,473.4C395.6,474.6 395.6,475.8 395.7,477.0C395.7,478.1 395.8,479.3 395.8,480.5C395.9,481.6 395.9,482.8 396.0,484.0C396.1,485.1 396.2,486.3 396.2,487.4C396.3,488.6 396.4,489.7 396.5,490.9C396.6,492.0 396.7,493.2 396.8,494.3C396.8,495.5 396.9,496.6 397.0,497.8C397.1,498.9 397.2,500.1 397.3,501.2C397.4,502.4 397.5,503.5 397.5,504.7C397.6,505.9 397.7,507.0 397.7,508.2C397.8,509.4 397.8,510.6 397.8,511.8C397.9,512.9 397.9,514.1 397.9,515.3C397.9,516.6 397.9,517.8 397.8,519.0C397.8,520.2 397.7,522.1 397.7,522.7" stroke="#ff0000" stroke-width="7.5" fill="none" stroke-linecap="round" stroke-linejoin="round"/>
<path d="M291.95,47.00H393.90V139.30H291.95M295.40,43.55V142.75" fill="none" stroke="#0000ff" stroke-width="6.9" stroke-dasharray="18 13.3"/>
<path d="M256.05,188.00H336.70V263.60H256.05M259.50,184.55V267.05" fill="none" stroke="#0000ff" stroke-width="6.9" stroke-dasharray="18 13.3"/>
<path d="M628.05,307.10H727.60V408.30H628.05M631.50,303.65V411.75" fill="none" stroke="#0000ff" stroke-width="6.9" stroke-dasharray="18 13.3"/>
<path d="M493.35,369.30H574.00V444.80H493.35M496.80,365.85V448.25" fill="none" stroke="#0000ff" stroke-width="6.9" stroke-dasharray="18 13.3"/>
<path d="M204.75,330.50H264.50V387.00H204.75M208.20,327.05V390.45" fill="none" stroke="#0000ff" stroke-width="6.9" stroke-dasharray="18 13.3"/>
<path d="M336.55,433.40H390.20V483.50H337.50M340.00,429.95V486.95" fill="none" stroke="#0000ff" stroke-width="6.9" stroke-dasharray="18 13.3"/>
<rect x="111.60" y="1.70" width="688.60" height="554.55" fill="none" stroke="#000" stroke-width="4.4"/>
<rect x="532.1" y="67.9" width="224.1" height="81.9" fill="#000"/>
<rect x="524.15" y="59.95" width="223.9" height="81.6" fill="#fff" stroke="#000" stroke-width="3.9"/>
<path d="M528,82.1H586" stroke="#000" stroke-width="6.8" stroke-linecap="round"/>
<path d="M528,121.4H586" stroke="#f00" stroke-width="6.8" stroke-linecap="round"/>
<text x="601.3" y="92.9" font-family="Liberation Sans, Arial, Helvetica, sans-serif" font-weight="bold" stroke="#000" stroke-width="0.9" font-size="31">W/O SHE</text>
<text x="595.6" y="131.6" font-family="Liberation Sans, Arial, Helvetica, sans-serif" font-weight="bold" stroke="#000" stroke-width="0.9" font-size="31">W SHE</text>
<text x="598.8" y="203.4" font-family="Liberation Sans, Arial, Helvetica, sans-serif" font-weight="bold" stroke="#f00" stroke-width="1.0" font-size="46.8" fill="#ff0000">FSFET</text>
<text x="148.6" y="593.0" text-anchor="middle" font-family="Liberation Sans, Arial, Helvetica, sans-serif" font-weight="bold" stroke="#000" stroke-width="0.9" stroke-linejoin="round" font-size="31.5">0.0</text>
<text x="99.9" y="536.0" text-anchor="end" font-family="Liberation Sans, Arial, Helvetica, sans-serif" font-weight="bold" stroke="#000" stroke-width="0.9" stroke-linejoin="round" font-size="31.5">0.0</text>
<text x="271.5" y="593.0" text-anchor="middle" font-family="Liberation Sans, Arial, Helvetica, sans-serif" font-weight="bold" stroke="#000" stroke-width="0.9" stroke-linejoin="round" font-size="31.5">0.2</text>
<text x="99.9" y="437.0" text-anchor="end" font-family="Liberation Sans, Arial, Helvetica, sans-serif" font-weight="bold" stroke="#000" stroke-width="0.9" stroke-linejoin="round" font-size="31.5">0.2</text>
<text x="394.4" y="593.0" text-anchor="middle" font-family="Liberation Sans, Arial, Helvetica, sans-serif" font-weight="bold" stroke="#000" stroke-width="0.9" stroke-linejoin="round" font-size="31.5">0.4</text>
<text x="99.9" y="338.0" text-anchor="end" font-family="Liberation Sans, Arial, Helvetica, sans-serif" font-weight="bold" stroke="#000" stroke-width="0.9" stroke-linejoin="round" font-size="31.5">0.4</text>
<text x="517.4" y="593.0" text-anchor="middle" font-family="Liberation Sans, Arial, Helvetica, sans-serif" font-weight="bold" stroke="#000" stroke-width="0.9" stroke-linejoin="round" font-size="31.5">0.6</text>
<text x="99.9" y="239.0" text-anchor="end" font-family="Liberation Sans, Arial, Helvetica, sans-serif" font-weight="bold" stroke="#000" stroke-width="0.9" stroke-linejoin="round" font-size="31.5">0.6</text>
<text x="640.3" y="593.0" text-anchor="middle" font-family="Liberation Sans, Arial, Helvetica, sans-serif" font-weight="bold" stroke="#000" stroke-width="0.9" stroke-linejoin="round" font-size="31.5">0.8</text>
<text x="99.9" y="140.0" text-anchor="end" font-family="Liberation Sans, Arial, Helvetica, sans-serif" font-weight="bold" stroke="#000" stroke-width="0.9" stroke-linejoin="round" font-size="31.5">0.8</text>
<text x="763.2" y="593.0" text-anchor="middle" font-family="Liberation Sans, Arial, Helvetica, sans-serif" font-weight="bold" stroke="#000" stroke-width="0.9" stroke-linejoin="round" font-size="31.5">1.0</text>
<text x="99.9" y="41.0" text-anchor="end" font-family="Liberation Sans, Arial, Helvetica, sans-serif" font-weight="bold" stroke="#000" stroke-width="0.9" stroke-linejoin="round" font-size="31.5">1.0</text>
<text x="404.9" y="644.6" font-family="Liberation Sans, Arial, Helvetica, sans-serif" font-weight="bold" stroke="#000" stroke-width="1" font-size="36">V<tspan font-size="24.5" dy="9.5">Q</tspan><tspan dy="-9.5"> (V)</tspan></text>
<text transform="translate(31.2,351) rotate(-90)" font-family="Liberation Sans, Arial, Helvetica, sans-serif" font-weight="bold" stroke="#000" stroke-width="1.5" font-size="43">V<tspan font-size="29.5" dy="12">QB</tspan><tspan dy="-12"> (V)</tspan></text>
</svg>
</body>
</html>
